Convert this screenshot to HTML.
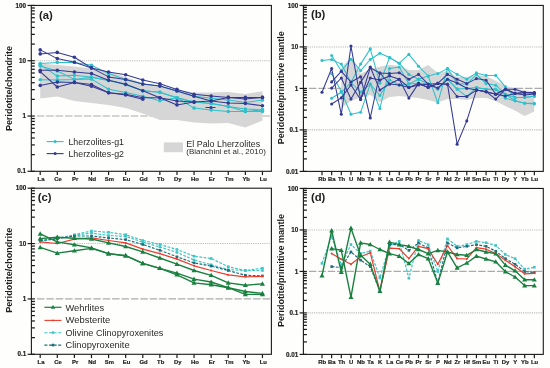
<!DOCTYPE html>
<html><head><meta charset="utf-8"><style>
html,body{margin:0;padding:0;background:#fefefc;width:550px;height:368px;overflow:hidden}
svg{display:block;will-change:transform}
text{font-family:"Liberation Sans",sans-serif;fill:#1e1e1e}
.tl{font-size:6.3px;font-weight:bold;stroke:#1e1e1e;stroke-width:0.2px}
.xl{font-size:5.9px;font-weight:bold;stroke:#1e1e1e;stroke-width:0.2px}
.pl{font-size:11.3px;font-weight:bold}
.yl{font-size:9px;font-weight:bold}
.lg{font-size:9px;fill:#2a2a2a}
.lg2{font-size:7.6px;fill:#2a2a2a}
.lg3{font-size:9.4px;fill:#2a2a2a}
</style></head><body>
<svg width="550" height="368" viewBox="0 0 550 368">
<line x1="36.8" y1="116.02" x2="270.4" y2="116.02" stroke="#ababab" stroke-width="1.2" stroke-dasharray="7.5,1.9"/>
<line x1="35.3" y1="60.73" x2="270.4" y2="60.73" stroke="#bdbdbd" stroke-width="1.1" stroke-dasharray="1.2,1.0"/>
<polygon points="40.20,63.50 57.30,65.00 74.39,66.50 91.49,68.50 108.58,71.50 125.68,77.00 142.78,83.00 159.87,86.00 176.97,90.00 194.06,92.50 211.16,92.50 228.26,92.00 245.35,94.00 262.45,91.20 262.45,120.50 245.35,127.50 228.26,123.00 211.16,123.50 194.06,122.50 176.97,120.00 159.87,120.00 142.78,113.50 125.68,108.00 108.58,105.00 91.49,103.00 74.39,101.00 57.30,96.50 40.20,98.50" fill="#d6d6d6"/>
<polyline points="40.20,63.50 57.30,62.40 74.39,62.40 91.49,65.20 108.58,73.60 125.68,79.60 142.78,84.10 159.87,86.10 176.97,91.00 194.06,96.20 211.16,98.20 228.26,100.10 245.35,102.60 262.45,100.10" fill="none" stroke="#2fc1cb" stroke-width="1.05" stroke-linejoin="round"/>
<circle cx="40.20" cy="63.50" r="1.8" fill="#2fc1cb"/>
<circle cx="57.30" cy="62.40" r="1.8" fill="#2fc1cb"/>
<circle cx="74.39" cy="62.40" r="1.8" fill="#2fc1cb"/>
<circle cx="91.49" cy="65.20" r="1.8" fill="#2fc1cb"/>
<circle cx="108.58" cy="73.60" r="1.8" fill="#2fc1cb"/>
<circle cx="125.68" cy="79.60" r="1.8" fill="#2fc1cb"/>
<circle cx="142.78" cy="84.10" r="1.8" fill="#2fc1cb"/>
<circle cx="159.87" cy="86.10" r="1.8" fill="#2fc1cb"/>
<circle cx="176.97" cy="91.00" r="1.8" fill="#2fc1cb"/>
<circle cx="194.06" cy="96.20" r="1.8" fill="#2fc1cb"/>
<circle cx="211.16" cy="98.20" r="1.8" fill="#2fc1cb"/>
<circle cx="228.26" cy="100.10" r="1.8" fill="#2fc1cb"/>
<circle cx="245.35" cy="102.60" r="1.8" fill="#2fc1cb"/>
<circle cx="262.45" cy="100.10" r="1.8" fill="#2fc1cb"/>
<polyline points="40.20,64.60 57.30,76.10 74.39,75.30 91.49,77.20 108.58,80.20 125.68,84.20 142.78,90.70 159.87,92.30 176.97,97.80 194.06,102.10 211.16,103.40 228.26,106.60 245.35,109.10 262.45,109.90" fill="none" stroke="#2fc1cb" stroke-width="1.05" stroke-linejoin="round"/>
<circle cx="40.20" cy="64.60" r="1.8" fill="#2fc1cb"/>
<circle cx="57.30" cy="76.10" r="1.8" fill="#2fc1cb"/>
<circle cx="74.39" cy="75.30" r="1.8" fill="#2fc1cb"/>
<circle cx="91.49" cy="77.20" r="1.8" fill="#2fc1cb"/>
<circle cx="108.58" cy="80.20" r="1.8" fill="#2fc1cb"/>
<circle cx="125.68" cy="84.20" r="1.8" fill="#2fc1cb"/>
<circle cx="142.78" cy="90.70" r="1.8" fill="#2fc1cb"/>
<circle cx="159.87" cy="92.30" r="1.8" fill="#2fc1cb"/>
<circle cx="176.97" cy="97.80" r="1.8" fill="#2fc1cb"/>
<circle cx="194.06" cy="102.10" r="1.8" fill="#2fc1cb"/>
<circle cx="211.16" cy="103.40" r="1.8" fill="#2fc1cb"/>
<circle cx="228.26" cy="106.60" r="1.8" fill="#2fc1cb"/>
<circle cx="245.35" cy="109.10" r="1.8" fill="#2fc1cb"/>
<circle cx="262.45" cy="109.90" r="1.8" fill="#2fc1cb"/>
<polyline points="40.20,66.10 57.30,71.00 74.39,79.40 91.49,79.10 108.58,89.20 125.68,92.50 142.78,96.20 159.87,100.80 176.97,97.80 194.06,108.10 211.16,109.90 228.26,111.50 245.35,111.50 262.45,111.50" fill="none" stroke="#2fc1cb" stroke-width="1.05" stroke-linejoin="round"/>
<circle cx="40.20" cy="66.10" r="1.8" fill="#2fc1cb"/>
<circle cx="57.30" cy="71.00" r="1.8" fill="#2fc1cb"/>
<circle cx="74.39" cy="79.40" r="1.8" fill="#2fc1cb"/>
<circle cx="91.49" cy="79.10" r="1.8" fill="#2fc1cb"/>
<circle cx="108.58" cy="89.20" r="1.8" fill="#2fc1cb"/>
<circle cx="125.68" cy="92.50" r="1.8" fill="#2fc1cb"/>
<circle cx="142.78" cy="96.20" r="1.8" fill="#2fc1cb"/>
<circle cx="159.87" cy="100.80" r="1.8" fill="#2fc1cb"/>
<circle cx="176.97" cy="97.80" r="1.8" fill="#2fc1cb"/>
<circle cx="194.06" cy="108.10" r="1.8" fill="#2fc1cb"/>
<circle cx="211.16" cy="109.90" r="1.8" fill="#2fc1cb"/>
<circle cx="228.26" cy="111.50" r="1.8" fill="#2fc1cb"/>
<circle cx="245.35" cy="111.50" r="1.8" fill="#2fc1cb"/>
<circle cx="262.45" cy="111.50" r="1.8" fill="#2fc1cb"/>
<polyline points="40.20,79.70 57.30,79.90 74.39,79.40 91.49,77.20 108.58,80.60 125.68,84.70 142.78,90.70 159.87,92.30 176.97,97.80 194.06,102.10 211.16,103.40 228.26,106.60 245.35,111.50 262.45,109.90" fill="none" stroke="#2fc1cb" stroke-width="1.05" stroke-linejoin="round"/>
<circle cx="40.20" cy="79.70" r="1.8" fill="#2fc1cb"/>
<circle cx="57.30" cy="79.90" r="1.8" fill="#2fc1cb"/>
<circle cx="74.39" cy="79.40" r="1.8" fill="#2fc1cb"/>
<circle cx="91.49" cy="77.20" r="1.8" fill="#2fc1cb"/>
<circle cx="108.58" cy="80.60" r="1.8" fill="#2fc1cb"/>
<circle cx="125.68" cy="84.70" r="1.8" fill="#2fc1cb"/>
<circle cx="142.78" cy="90.70" r="1.8" fill="#2fc1cb"/>
<circle cx="159.87" cy="92.30" r="1.8" fill="#2fc1cb"/>
<circle cx="176.97" cy="97.80" r="1.8" fill="#2fc1cb"/>
<circle cx="194.06" cy="102.10" r="1.8" fill="#2fc1cb"/>
<circle cx="211.16" cy="103.40" r="1.8" fill="#2fc1cb"/>
<circle cx="228.26" cy="106.60" r="1.8" fill="#2fc1cb"/>
<circle cx="245.35" cy="111.50" r="1.8" fill="#2fc1cb"/>
<circle cx="262.45" cy="109.90" r="1.8" fill="#2fc1cb"/>
<polyline points="40.20,53.90 57.30,52.40 74.39,57.30 91.49,67.90 108.58,72.00 125.68,74.70 142.78,80.10 159.87,83.70 176.97,89.40 194.06,94.30 211.16,96.10 228.26,97.40 245.35,97.40 262.45,97.40" fill="none" stroke="#343a94" stroke-width="1.05" stroke-linejoin="round"/>
<circle cx="40.20" cy="53.90" r="1.8" fill="#343a94"/>
<circle cx="57.30" cy="52.40" r="1.8" fill="#343a94"/>
<circle cx="74.39" cy="57.30" r="1.8" fill="#343a94"/>
<circle cx="91.49" cy="67.90" r="1.8" fill="#343a94"/>
<circle cx="108.58" cy="72.00" r="1.8" fill="#343a94"/>
<circle cx="125.68" cy="74.70" r="1.8" fill="#343a94"/>
<circle cx="142.78" cy="80.10" r="1.8" fill="#343a94"/>
<circle cx="159.87" cy="83.70" r="1.8" fill="#343a94"/>
<circle cx="176.97" cy="89.40" r="1.8" fill="#343a94"/>
<circle cx="194.06" cy="94.30" r="1.8" fill="#343a94"/>
<circle cx="211.16" cy="96.10" r="1.8" fill="#343a94"/>
<circle cx="228.26" cy="97.40" r="1.8" fill="#343a94"/>
<circle cx="245.35" cy="97.40" r="1.8" fill="#343a94"/>
<circle cx="262.45" cy="97.40" r="1.8" fill="#343a94"/>
<polyline points="40.20,49.90 57.30,58.60 74.39,62.20 91.49,67.90 108.58,76.90 125.68,79.60 142.78,84.10 159.87,86.10 176.97,91.00 194.06,96.20 211.16,100.90 228.26,97.40 245.35,99.00 262.45,97.40" fill="none" stroke="#343a94" stroke-width="1.05" stroke-linejoin="round"/>
<circle cx="40.20" cy="49.90" r="1.8" fill="#343a94"/>
<circle cx="57.30" cy="58.60" r="1.8" fill="#343a94"/>
<circle cx="74.39" cy="62.20" r="1.8" fill="#343a94"/>
<circle cx="91.49" cy="67.90" r="1.8" fill="#343a94"/>
<circle cx="108.58" cy="76.90" r="1.8" fill="#343a94"/>
<circle cx="125.68" cy="79.60" r="1.8" fill="#343a94"/>
<circle cx="142.78" cy="84.10" r="1.8" fill="#343a94"/>
<circle cx="159.87" cy="86.10" r="1.8" fill="#343a94"/>
<circle cx="176.97" cy="91.00" r="1.8" fill="#343a94"/>
<circle cx="194.06" cy="96.20" r="1.8" fill="#343a94"/>
<circle cx="211.16" cy="100.90" r="1.8" fill="#343a94"/>
<circle cx="228.26" cy="97.40" r="1.8" fill="#343a94"/>
<circle cx="245.35" cy="99.00" r="1.8" fill="#343a94"/>
<circle cx="262.45" cy="97.40" r="1.8" fill="#343a94"/>
<polyline points="40.20,70.30 57.30,70.30 74.39,72.00 91.49,73.60 108.58,80.20 125.68,84.20 142.78,90.70 159.87,97.80 176.97,101.10 194.06,102.10 211.16,100.90 228.26,103.10 245.35,103.40 262.45,105.80" fill="none" stroke="#343a94" stroke-width="1.05" stroke-linejoin="round"/>
<circle cx="40.20" cy="70.30" r="1.8" fill="#343a94"/>
<circle cx="57.30" cy="70.30" r="1.8" fill="#343a94"/>
<circle cx="74.39" cy="72.00" r="1.8" fill="#343a94"/>
<circle cx="91.49" cy="73.60" r="1.8" fill="#343a94"/>
<circle cx="108.58" cy="80.20" r="1.8" fill="#343a94"/>
<circle cx="125.68" cy="84.20" r="1.8" fill="#343a94"/>
<circle cx="142.78" cy="90.70" r="1.8" fill="#343a94"/>
<circle cx="159.87" cy="97.80" r="1.8" fill="#343a94"/>
<circle cx="176.97" cy="101.10" r="1.8" fill="#343a94"/>
<circle cx="194.06" cy="102.10" r="1.8" fill="#343a94"/>
<circle cx="211.16" cy="100.90" r="1.8" fill="#343a94"/>
<circle cx="228.26" cy="103.10" r="1.8" fill="#343a94"/>
<circle cx="245.35" cy="103.40" r="1.8" fill="#343a94"/>
<circle cx="262.45" cy="105.80" r="1.8" fill="#343a94"/>
<polyline points="40.20,71.70 57.30,87.00 74.39,82.40 91.49,84.50 108.58,92.70 125.68,94.90 142.78,99.20" fill="none" stroke="#343a94" stroke-width="1.05" stroke-linejoin="round"/>
<circle cx="40.20" cy="71.70" r="1.8" fill="#343a94"/>
<circle cx="57.30" cy="87.00" r="1.8" fill="#343a94"/>
<circle cx="74.39" cy="82.40" r="1.8" fill="#343a94"/>
<circle cx="91.49" cy="84.50" r="1.8" fill="#343a94"/>
<circle cx="108.58" cy="92.70" r="1.8" fill="#343a94"/>
<circle cx="125.68" cy="94.90" r="1.8" fill="#343a94"/>
<circle cx="142.78" cy="99.20" r="1.8" fill="#343a94"/>
<polyline points="40.20,85.40 57.30,82.10 74.39,82.40 91.49,86.20 108.58,92.70 125.68,94.20 142.78,97.70 159.87,97.80 176.97,104.90 194.06,102.10" fill="none" stroke="#343a94" stroke-width="1.05" stroke-linejoin="round"/>
<circle cx="40.20" cy="85.40" r="1.8" fill="#343a94"/>
<circle cx="57.30" cy="82.10" r="1.8" fill="#343a94"/>
<circle cx="74.39" cy="82.40" r="1.8" fill="#343a94"/>
<circle cx="91.49" cy="86.20" r="1.8" fill="#343a94"/>
<circle cx="108.58" cy="92.70" r="1.8" fill="#343a94"/>
<circle cx="125.68" cy="94.20" r="1.8" fill="#343a94"/>
<circle cx="142.78" cy="97.70" r="1.8" fill="#343a94"/>
<circle cx="159.87" cy="97.80" r="1.8" fill="#343a94"/>
<circle cx="176.97" cy="104.90" r="1.8" fill="#343a94"/>
<circle cx="194.06" cy="102.10" r="1.8" fill="#343a94"/>
<line x1="205.5" y1="107.5" x2="215.5" y2="107.5" stroke="#343a94" stroke-width="1"/><circle cx="211" cy="107.5" r="1.6" fill="#343a94"/>
<rect x="31.3" y="5.45" width="240.09999999999997" height="165.85000000000002" fill="none" stroke="#1a1a1a" stroke-width="1.1"/>
<line x1="27.5" y1="171.30" x2="34.8" y2="171.30" stroke="#1a1a1a" stroke-width="1.2"/>
<line x1="31.3" y1="154.66" x2="34.8" y2="154.66" stroke="#1a1a1a" stroke-width="1.25"/>
<line x1="31.3" y1="144.92" x2="34.8" y2="144.92" stroke="#1a1a1a" stroke-width="1.25"/>
<line x1="31.3" y1="138.02" x2="34.8" y2="138.02" stroke="#1a1a1a" stroke-width="1.25"/>
<line x1="31.3" y1="132.66" x2="34.8" y2="132.66" stroke="#1a1a1a" stroke-width="1.25"/>
<line x1="31.3" y1="128.28" x2="34.8" y2="128.28" stroke="#1a1a1a" stroke-width="1.25"/>
<line x1="31.3" y1="124.58" x2="34.8" y2="124.58" stroke="#1a1a1a" stroke-width="1.25"/>
<line x1="31.3" y1="121.37" x2="34.8" y2="121.37" stroke="#1a1a1a" stroke-width="1.25"/>
<line x1="31.3" y1="118.55" x2="34.8" y2="118.55" stroke="#1a1a1a" stroke-width="1.25"/>
<text x="26.1" y="173.40" text-anchor="end" class="tl">0.1</text>
<line x1="27.5" y1="116.02" x2="34.8" y2="116.02" stroke="#1a1a1a" stroke-width="1.2"/>
<line x1="31.3" y1="99.37" x2="34.8" y2="99.37" stroke="#1a1a1a" stroke-width="1.25"/>
<line x1="31.3" y1="89.64" x2="34.8" y2="89.64" stroke="#1a1a1a" stroke-width="1.25"/>
<line x1="31.3" y1="82.73" x2="34.8" y2="82.73" stroke="#1a1a1a" stroke-width="1.25"/>
<line x1="31.3" y1="77.38" x2="34.8" y2="77.38" stroke="#1a1a1a" stroke-width="1.25"/>
<line x1="31.3" y1="73.00" x2="34.8" y2="73.00" stroke="#1a1a1a" stroke-width="1.25"/>
<line x1="31.3" y1="69.30" x2="34.8" y2="69.30" stroke="#1a1a1a" stroke-width="1.25"/>
<line x1="31.3" y1="66.09" x2="34.8" y2="66.09" stroke="#1a1a1a" stroke-width="1.25"/>
<line x1="31.3" y1="63.26" x2="34.8" y2="63.26" stroke="#1a1a1a" stroke-width="1.25"/>
<text x="26.1" y="118.12" text-anchor="end" class="tl">1</text>
<line x1="27.5" y1="60.73" x2="34.8" y2="60.73" stroke="#1a1a1a" stroke-width="1.2"/>
<line x1="31.3" y1="44.09" x2="34.8" y2="44.09" stroke="#1a1a1a" stroke-width="1.25"/>
<line x1="31.3" y1="34.36" x2="34.8" y2="34.36" stroke="#1a1a1a" stroke-width="1.25"/>
<line x1="31.3" y1="27.45" x2="34.8" y2="27.45" stroke="#1a1a1a" stroke-width="1.25"/>
<line x1="31.3" y1="22.09" x2="34.8" y2="22.09" stroke="#1a1a1a" stroke-width="1.25"/>
<line x1="31.3" y1="17.71" x2="34.8" y2="17.71" stroke="#1a1a1a" stroke-width="1.25"/>
<line x1="31.3" y1="14.01" x2="34.8" y2="14.01" stroke="#1a1a1a" stroke-width="1.25"/>
<line x1="31.3" y1="10.81" x2="34.8" y2="10.81" stroke="#1a1a1a" stroke-width="1.25"/>
<line x1="31.3" y1="7.98" x2="34.8" y2="7.98" stroke="#1a1a1a" stroke-width="1.25"/>
<text x="26.1" y="62.83" text-anchor="end" class="tl">10</text>
<line x1="27.5" y1="5.45" x2="34.8" y2="5.45" stroke="#1a1a1a" stroke-width="1.2"/>
<text x="26.1" y="7.55" text-anchor="end" class="tl">100</text>
<line x1="40.20" y1="171.3" x2="40.20" y2="175.10000000000002" stroke="#1a1a1a" stroke-width="1.2"/>
<text x="41.00" y="180.60" text-anchor="middle" class="xl">La</text>
<line x1="57.30" y1="171.3" x2="57.30" y2="175.10000000000002" stroke="#1a1a1a" stroke-width="1.2"/>
<text x="58.10" y="180.60" text-anchor="middle" class="xl">Ce</text>
<line x1="74.39" y1="171.3" x2="74.39" y2="175.10000000000002" stroke="#1a1a1a" stroke-width="1.2"/>
<text x="75.19" y="180.60" text-anchor="middle" class="xl">Pr</text>
<line x1="91.49" y1="171.3" x2="91.49" y2="175.10000000000002" stroke="#1a1a1a" stroke-width="1.2"/>
<text x="92.29" y="180.60" text-anchor="middle" class="xl">Nd</text>
<line x1="108.58" y1="171.3" x2="108.58" y2="175.10000000000002" stroke="#1a1a1a" stroke-width="1.2"/>
<text x="109.38" y="180.60" text-anchor="middle" class="xl">Sm</text>
<line x1="125.68" y1="171.3" x2="125.68" y2="175.10000000000002" stroke="#1a1a1a" stroke-width="1.2"/>
<text x="126.48" y="180.60" text-anchor="middle" class="xl">Eu</text>
<line x1="142.78" y1="171.3" x2="142.78" y2="175.10000000000002" stroke="#1a1a1a" stroke-width="1.2"/>
<text x="143.58" y="180.60" text-anchor="middle" class="xl">Gd</text>
<line x1="159.87" y1="171.3" x2="159.87" y2="175.10000000000002" stroke="#1a1a1a" stroke-width="1.2"/>
<text x="160.67" y="180.60" text-anchor="middle" class="xl">Tb</text>
<line x1="176.97" y1="171.3" x2="176.97" y2="175.10000000000002" stroke="#1a1a1a" stroke-width="1.2"/>
<text x="177.77" y="180.60" text-anchor="middle" class="xl">Dy</text>
<line x1="194.06" y1="171.3" x2="194.06" y2="175.10000000000002" stroke="#1a1a1a" stroke-width="1.2"/>
<text x="194.86" y="180.60" text-anchor="middle" class="xl">Ho</text>
<line x1="211.16" y1="171.3" x2="211.16" y2="175.10000000000002" stroke="#1a1a1a" stroke-width="1.2"/>
<text x="211.96" y="180.60" text-anchor="middle" class="xl">Er</text>
<line x1="228.26" y1="171.3" x2="228.26" y2="175.10000000000002" stroke="#1a1a1a" stroke-width="1.2"/>
<text x="229.06" y="180.60" text-anchor="middle" class="xl">Tm</text>
<line x1="245.35" y1="171.3" x2="245.35" y2="175.10000000000002" stroke="#1a1a1a" stroke-width="1.2"/>
<text x="246.15" y="180.60" text-anchor="middle" class="xl">Yb</text>
<line x1="262.45" y1="171.3" x2="262.45" y2="175.10000000000002" stroke="#1a1a1a" stroke-width="1.2"/>
<text x="263.25" y="180.60" text-anchor="middle" class="xl">Lu</text>
<text x="38.9" y="19.25" class="pl">(a)</text>
<text transform="translate(11.9,88.40) rotate(-90)" text-anchor="middle" class="yl">Peridotite/chondrite</text>
<line x1="46.6" y1="141.6" x2="63.6" y2="141.6" stroke="#2fc1cb" stroke-width="1.1"/><circle cx="55.1" cy="141.6" r="1.5" fill="#2fc1cb"/>
<text x="68.4" y="144.9" class="lg" textLength="55.6" lengthAdjust="spacingAndGlyphs">Lherzolites-g1</text>
<line x1="46.6" y1="153.6" x2="63.6" y2="153.6" stroke="#343a94" stroke-width="1.1"/><circle cx="55.1" cy="153.6" r="1.5" fill="#343a94"/>
<text x="68.4" y="156.9" class="lg" textLength="55.6" lengthAdjust="spacingAndGlyphs">Lherzolites-g2</text>
<rect x="163.8" y="142.4" width="19.1" height="9.8" fill="#d6d6d6"/>
<text x="186.3" y="146.9" class="lg" textLength="73.8" lengthAdjust="spacingAndGlyphs">El Palo Lherzolites</text>
<text x="186.3" y="153.8" class="lg2" textLength="79.5" lengthAdjust="spacingAndGlyphs">(Bianchini et al., 2010)</text>
<line x1="307.4" y1="129.91" x2="542.3" y2="129.91" stroke="#bdbdbd" stroke-width="1.1" stroke-dasharray="1.2,1.0"/>
<line x1="308.9" y1="88.42" x2="542.3" y2="88.42" stroke="#ababab" stroke-width="1.2" stroke-dasharray="7.5,1.9"/>
<line x1="307.4" y1="46.94" x2="542.3" y2="46.94" stroke="#bdbdbd" stroke-width="1.1" stroke-dasharray="1.2,1.0"/>
<polygon points="341.30,67.70 351.00,57.50 360.60,74.00 370.30,69.00 379.90,66.80 389.60,64.70 399.20,66.00 408.90,70.00 418.50,70.00 428.20,65.00 437.80,73.00 447.50,71.00 457.10,77.00 466.70,77.00 476.40,75.00 486.00,76.00 495.70,80.70 505.30,85.50 515.00,89.00 524.60,90.20 534.20,91.40 534.20,111.50 524.60,116.00 515.00,110.50 505.30,106.00 495.70,101.00 486.00,98.00 476.40,98.00 466.70,100.00 457.10,99.00 447.50,99.00 437.80,102.50 428.20,100.00 418.50,98.00 408.90,97.00 399.20,96.00 389.60,97.00 379.90,102.00 370.30,95.00 360.60,97.50 351.00,101.00 341.30,108.00" fill="#d6d6d6"/>
<polyline points="322.00,60.40 331.65,59.50 341.30,64.10 350.96,82.50 360.61,64.10 370.26,48.90 379.91,83.20 389.56,57.60 399.22,63.20 408.87,54.40 418.52,66.20 428.17,76.00 437.82,102.70 447.48,68.60 457.13,74.40 466.78,79.30 476.43,72.90 486.08,75.40 495.74,75.40 505.39,86.80 515.04,97.50 524.69,97.50 534.34,96.30" fill="none" stroke="#2fc1cb" stroke-width="1.05" stroke-linejoin="round"/>
<circle cx="322.00" cy="60.40" r="1.55" fill="#2fc1cb"/>
<circle cx="331.65" cy="59.50" r="1.55" fill="#2fc1cb"/>
<circle cx="341.30" cy="64.10" r="1.55" fill="#2fc1cb"/>
<circle cx="350.96" cy="82.50" r="1.55" fill="#2fc1cb"/>
<circle cx="360.61" cy="64.10" r="1.55" fill="#2fc1cb"/>
<circle cx="370.26" cy="48.90" r="1.55" fill="#2fc1cb"/>
<circle cx="379.91" cy="83.20" r="1.55" fill="#2fc1cb"/>
<circle cx="389.56" cy="57.60" r="1.55" fill="#2fc1cb"/>
<circle cx="399.22" cy="63.20" r="1.55" fill="#2fc1cb"/>
<circle cx="408.87" cy="54.40" r="1.55" fill="#2fc1cb"/>
<circle cx="418.52" cy="66.20" r="1.55" fill="#2fc1cb"/>
<circle cx="428.17" cy="76.00" r="1.55" fill="#2fc1cb"/>
<circle cx="437.82" cy="102.70" r="1.55" fill="#2fc1cb"/>
<circle cx="447.48" cy="68.60" r="1.55" fill="#2fc1cb"/>
<circle cx="457.13" cy="74.40" r="1.55" fill="#2fc1cb"/>
<circle cx="466.78" cy="79.30" r="1.55" fill="#2fc1cb"/>
<circle cx="476.43" cy="72.90" r="1.55" fill="#2fc1cb"/>
<circle cx="486.08" cy="75.40" r="1.55" fill="#2fc1cb"/>
<circle cx="495.74" cy="75.40" r="1.55" fill="#2fc1cb"/>
<circle cx="505.39" cy="86.80" r="1.55" fill="#2fc1cb"/>
<circle cx="515.04" cy="97.50" r="1.55" fill="#2fc1cb"/>
<circle cx="524.69" cy="97.50" r="1.55" fill="#2fc1cb"/>
<circle cx="534.34" cy="96.30" r="1.55" fill="#2fc1cb"/>
<polyline points="331.65,55.50 341.30,71.00 350.96,59.20 360.61,70.70 370.26,59.50 379.91,53.30 389.56,57.60 399.22,63.20 408.87,74.40 418.52,79.30 428.17,76.00 437.82,73.60 447.48,68.60 457.13,83.40 466.78,84.20 476.43,74.50 486.08,83.60 495.74,85.20 505.39,94.20 515.04,100.70 524.69,103.20 534.34,103.20" fill="none" stroke="#2fc1cb" stroke-width="1.05" stroke-linejoin="round"/>
<circle cx="331.65" cy="55.50" r="1.55" fill="#2fc1cb"/>
<circle cx="341.30" cy="71.00" r="1.55" fill="#2fc1cb"/>
<circle cx="350.96" cy="59.20" r="1.55" fill="#2fc1cb"/>
<circle cx="360.61" cy="70.70" r="1.55" fill="#2fc1cb"/>
<circle cx="370.26" cy="59.50" r="1.55" fill="#2fc1cb"/>
<circle cx="379.91" cy="53.30" r="1.55" fill="#2fc1cb"/>
<circle cx="389.56" cy="57.60" r="1.55" fill="#2fc1cb"/>
<circle cx="399.22" cy="63.20" r="1.55" fill="#2fc1cb"/>
<circle cx="408.87" cy="74.40" r="1.55" fill="#2fc1cb"/>
<circle cx="418.52" cy="79.30" r="1.55" fill="#2fc1cb"/>
<circle cx="428.17" cy="76.00" r="1.55" fill="#2fc1cb"/>
<circle cx="437.82" cy="73.60" r="1.55" fill="#2fc1cb"/>
<circle cx="447.48" cy="68.60" r="1.55" fill="#2fc1cb"/>
<circle cx="457.13" cy="83.40" r="1.55" fill="#2fc1cb"/>
<circle cx="466.78" cy="84.20" r="1.55" fill="#2fc1cb"/>
<circle cx="476.43" cy="74.50" r="1.55" fill="#2fc1cb"/>
<circle cx="486.08" cy="83.60" r="1.55" fill="#2fc1cb"/>
<circle cx="495.74" cy="85.20" r="1.55" fill="#2fc1cb"/>
<circle cx="505.39" cy="94.20" r="1.55" fill="#2fc1cb"/>
<circle cx="515.04" cy="100.70" r="1.55" fill="#2fc1cb"/>
<circle cx="524.69" cy="103.20" r="1.55" fill="#2fc1cb"/>
<circle cx="534.34" cy="103.20" r="1.55" fill="#2fc1cb"/>
<polyline points="331.65,73.50 341.30,91.40 350.96,114.30 360.61,112.30 370.26,84.10 379.91,108.50 389.56,68.50 399.22,67.00 408.87,83.90 418.52,79.30 428.17,84.00 437.82,89.10 447.48,79.30 457.13,89.10 466.78,88.50 476.43,87.60 486.08,89.30 495.74,89.30 505.39,98.30 515.04,100.70 524.69,103.20 534.34,104.00" fill="none" stroke="#2fc1cb" stroke-width="1.05" stroke-linejoin="round"/>
<circle cx="331.65" cy="73.50" r="1.55" fill="#2fc1cb"/>
<circle cx="341.30" cy="91.40" r="1.55" fill="#2fc1cb"/>
<circle cx="350.96" cy="114.30" r="1.55" fill="#2fc1cb"/>
<circle cx="360.61" cy="112.30" r="1.55" fill="#2fc1cb"/>
<circle cx="370.26" cy="84.10" r="1.55" fill="#2fc1cb"/>
<circle cx="379.91" cy="108.50" r="1.55" fill="#2fc1cb"/>
<circle cx="389.56" cy="68.50" r="1.55" fill="#2fc1cb"/>
<circle cx="399.22" cy="67.00" r="1.55" fill="#2fc1cb"/>
<circle cx="408.87" cy="83.90" r="1.55" fill="#2fc1cb"/>
<circle cx="418.52" cy="79.30" r="1.55" fill="#2fc1cb"/>
<circle cx="428.17" cy="84.00" r="1.55" fill="#2fc1cb"/>
<circle cx="437.82" cy="89.10" r="1.55" fill="#2fc1cb"/>
<circle cx="447.48" cy="79.30" r="1.55" fill="#2fc1cb"/>
<circle cx="457.13" cy="89.10" r="1.55" fill="#2fc1cb"/>
<circle cx="466.78" cy="88.50" r="1.55" fill="#2fc1cb"/>
<circle cx="476.43" cy="87.60" r="1.55" fill="#2fc1cb"/>
<circle cx="486.08" cy="89.30" r="1.55" fill="#2fc1cb"/>
<circle cx="495.74" cy="89.30" r="1.55" fill="#2fc1cb"/>
<circle cx="505.39" cy="98.30" r="1.55" fill="#2fc1cb"/>
<circle cx="515.04" cy="100.70" r="1.55" fill="#2fc1cb"/>
<circle cx="524.69" cy="103.20" r="1.55" fill="#2fc1cb"/>
<circle cx="534.34" cy="104.00" r="1.55" fill="#2fc1cb"/>
<polyline points="331.65,98.20 341.30,92.30 350.96,82.50 360.61,92.00 370.26,84.10 379.91,95.50 389.56,79.90 399.22,85.00 408.87,83.90 418.52,83.00 428.17,84.00 437.82,89.00 447.48,79.30 457.13,89.10 466.78,96.60 476.43,87.60 486.08,89.30 495.74,89.30 505.39,94.20 515.04,97.50 524.69,97.50 534.34,96.30" fill="none" stroke="#2fc1cb" stroke-width="1.05" stroke-linejoin="round"/>
<circle cx="331.65" cy="98.20" r="1.55" fill="#2fc1cb"/>
<circle cx="341.30" cy="92.30" r="1.55" fill="#2fc1cb"/>
<circle cx="350.96" cy="82.50" r="1.55" fill="#2fc1cb"/>
<circle cx="360.61" cy="92.00" r="1.55" fill="#2fc1cb"/>
<circle cx="370.26" cy="84.10" r="1.55" fill="#2fc1cb"/>
<circle cx="379.91" cy="95.50" r="1.55" fill="#2fc1cb"/>
<circle cx="389.56" cy="79.90" r="1.55" fill="#2fc1cb"/>
<circle cx="399.22" cy="85.00" r="1.55" fill="#2fc1cb"/>
<circle cx="408.87" cy="83.90" r="1.55" fill="#2fc1cb"/>
<circle cx="418.52" cy="83.00" r="1.55" fill="#2fc1cb"/>
<circle cx="428.17" cy="84.00" r="1.55" fill="#2fc1cb"/>
<circle cx="437.82" cy="89.00" r="1.55" fill="#2fc1cb"/>
<circle cx="447.48" cy="79.30" r="1.55" fill="#2fc1cb"/>
<circle cx="457.13" cy="89.10" r="1.55" fill="#2fc1cb"/>
<circle cx="466.78" cy="96.60" r="1.55" fill="#2fc1cb"/>
<circle cx="476.43" cy="87.60" r="1.55" fill="#2fc1cb"/>
<circle cx="486.08" cy="89.30" r="1.55" fill="#2fc1cb"/>
<circle cx="495.74" cy="89.30" r="1.55" fill="#2fc1cb"/>
<circle cx="505.39" cy="94.20" r="1.55" fill="#2fc1cb"/>
<circle cx="515.04" cy="97.50" r="1.55" fill="#2fc1cb"/>
<circle cx="524.69" cy="97.50" r="1.55" fill="#2fc1cb"/>
<circle cx="534.34" cy="96.30" r="1.55" fill="#2fc1cb"/>
<polyline points="322.00,92.30 331.65,68.50 341.30,114.30 350.96,46.10 360.61,99.50 370.26,67.70 379.91,73.00 389.56,73.50 399.22,72.70 408.87,79.30 418.52,74.40 428.17,84.20 437.82,83.40 447.48,74.40 457.13,79.30 466.78,83.60 476.43,78.60 486.08,80.30 495.74,94.20 505.39,89.30 515.04,89.30 524.69,92.60 534.34,92.90" fill="none" stroke="#343a94" stroke-width="1.05" stroke-linejoin="round"/>
<circle cx="322.00" cy="92.30" r="1.55" fill="#343a94"/>
<circle cx="331.65" cy="68.50" r="1.55" fill="#343a94"/>
<circle cx="341.30" cy="114.30" r="1.55" fill="#343a94"/>
<circle cx="350.96" cy="46.10" r="1.55" fill="#343a94"/>
<circle cx="360.61" cy="99.50" r="1.55" fill="#343a94"/>
<circle cx="370.26" cy="67.70" r="1.55" fill="#343a94"/>
<circle cx="379.91" cy="73.00" r="1.55" fill="#343a94"/>
<circle cx="389.56" cy="73.50" r="1.55" fill="#343a94"/>
<circle cx="399.22" cy="72.70" r="1.55" fill="#343a94"/>
<circle cx="408.87" cy="79.30" r="1.55" fill="#343a94"/>
<circle cx="418.52" cy="74.40" r="1.55" fill="#343a94"/>
<circle cx="428.17" cy="84.20" r="1.55" fill="#343a94"/>
<circle cx="437.82" cy="83.40" r="1.55" fill="#343a94"/>
<circle cx="447.48" cy="74.40" r="1.55" fill="#343a94"/>
<circle cx="457.13" cy="79.30" r="1.55" fill="#343a94"/>
<circle cx="466.78" cy="83.60" r="1.55" fill="#343a94"/>
<circle cx="476.43" cy="78.60" r="1.55" fill="#343a94"/>
<circle cx="486.08" cy="80.30" r="1.55" fill="#343a94"/>
<circle cx="495.74" cy="94.20" r="1.55" fill="#343a94"/>
<circle cx="505.39" cy="89.30" r="1.55" fill="#343a94"/>
<circle cx="515.04" cy="89.30" r="1.55" fill="#343a94"/>
<circle cx="524.69" cy="92.60" r="1.55" fill="#343a94"/>
<circle cx="534.34" cy="92.90" r="1.55" fill="#343a94"/>
<polyline points="331.65,81.90 341.30,71.30 350.96,82.00 360.61,76.70 370.26,117.90 379.91,73.00 389.56,84.00 399.22,79.30 408.87,98.10 418.52,83.40 428.17,87.50 437.82,83.40 447.48,84.20 457.13,144.20 466.78,120.90 476.43,90.10 486.08,91.70 495.74,99.10 505.39,89.30 515.04,93.40 524.69,92.60 534.34,92.90" fill="none" stroke="#343a94" stroke-width="1.05" stroke-linejoin="round"/>
<circle cx="331.65" cy="81.90" r="1.55" fill="#343a94"/>
<circle cx="341.30" cy="71.30" r="1.55" fill="#343a94"/>
<circle cx="350.96" cy="82.00" r="1.55" fill="#343a94"/>
<circle cx="360.61" cy="76.70" r="1.55" fill="#343a94"/>
<circle cx="370.26" cy="117.90" r="1.55" fill="#343a94"/>
<circle cx="379.91" cy="73.00" r="1.55" fill="#343a94"/>
<circle cx="389.56" cy="84.00" r="1.55" fill="#343a94"/>
<circle cx="399.22" cy="79.30" r="1.55" fill="#343a94"/>
<circle cx="408.87" cy="98.10" r="1.55" fill="#343a94"/>
<circle cx="418.52" cy="83.40" r="1.55" fill="#343a94"/>
<circle cx="428.17" cy="87.50" r="1.55" fill="#343a94"/>
<circle cx="437.82" cy="83.40" r="1.55" fill="#343a94"/>
<circle cx="447.48" cy="84.20" r="1.55" fill="#343a94"/>
<circle cx="457.13" cy="144.20" r="1.55" fill="#343a94"/>
<circle cx="466.78" cy="120.90" r="1.55" fill="#343a94"/>
<circle cx="476.43" cy="90.10" r="1.55" fill="#343a94"/>
<circle cx="486.08" cy="91.70" r="1.55" fill="#343a94"/>
<circle cx="495.74" cy="99.10" r="1.55" fill="#343a94"/>
<circle cx="505.39" cy="89.30" r="1.55" fill="#343a94"/>
<circle cx="515.04" cy="93.40" r="1.55" fill="#343a94"/>
<circle cx="524.69" cy="92.60" r="1.55" fill="#343a94"/>
<circle cx="534.34" cy="92.90" r="1.55" fill="#343a94"/>
<polyline points="331.65,88.10 341.30,78.00 350.96,99.00 360.61,82.40 370.26,67.00 379.91,90.00 389.56,84.00 399.22,85.00 408.87,87.50 418.52,83.40 428.17,87.50 437.82,83.40 447.48,84.20 457.13,96.50 466.78,96.50 476.43,90.10 486.08,91.70 495.74,94.20 505.39,89.30 515.04,93.40 524.69,92.60 534.34,92.90" fill="none" stroke="#343a94" stroke-width="1.05" stroke-linejoin="round"/>
<circle cx="331.65" cy="88.10" r="1.55" fill="#343a94"/>
<circle cx="341.30" cy="78.00" r="1.55" fill="#343a94"/>
<circle cx="350.96" cy="99.00" r="1.55" fill="#343a94"/>
<circle cx="360.61" cy="82.40" r="1.55" fill="#343a94"/>
<circle cx="370.26" cy="67.00" r="1.55" fill="#343a94"/>
<circle cx="379.91" cy="90.00" r="1.55" fill="#343a94"/>
<circle cx="389.56" cy="84.00" r="1.55" fill="#343a94"/>
<circle cx="399.22" cy="85.00" r="1.55" fill="#343a94"/>
<circle cx="408.87" cy="87.50" r="1.55" fill="#343a94"/>
<circle cx="418.52" cy="83.40" r="1.55" fill="#343a94"/>
<circle cx="428.17" cy="87.50" r="1.55" fill="#343a94"/>
<circle cx="437.82" cy="83.40" r="1.55" fill="#343a94"/>
<circle cx="447.48" cy="84.20" r="1.55" fill="#343a94"/>
<circle cx="457.13" cy="96.50" r="1.55" fill="#343a94"/>
<circle cx="466.78" cy="96.50" r="1.55" fill="#343a94"/>
<circle cx="476.43" cy="90.10" r="1.55" fill="#343a94"/>
<circle cx="486.08" cy="91.70" r="1.55" fill="#343a94"/>
<circle cx="495.74" cy="94.20" r="1.55" fill="#343a94"/>
<circle cx="505.39" cy="89.30" r="1.55" fill="#343a94"/>
<circle cx="515.04" cy="93.40" r="1.55" fill="#343a94"/>
<circle cx="524.69" cy="92.60" r="1.55" fill="#343a94"/>
<circle cx="534.34" cy="92.90" r="1.55" fill="#343a94"/>
<polyline points="331.65,104.00 341.30,97.90 350.96,85.00 360.61,99.50 370.26,78.00 379.91,80.00 389.56,76.00 399.22,79.30 408.87,87.50 418.52,85.00 428.17,84.20 437.82,88.00 447.48,79.30 457.13,83.00 466.78,88.30 476.43,90.10 486.08,91.70 495.74,94.20 505.39,96.00 515.04,93.40 524.69,95.00 534.34,94.00" fill="none" stroke="#343a94" stroke-width="1.05" stroke-linejoin="round"/>
<circle cx="331.65" cy="104.00" r="1.55" fill="#343a94"/>
<circle cx="341.30" cy="97.90" r="1.55" fill="#343a94"/>
<circle cx="350.96" cy="85.00" r="1.55" fill="#343a94"/>
<circle cx="360.61" cy="99.50" r="1.55" fill="#343a94"/>
<circle cx="370.26" cy="78.00" r="1.55" fill="#343a94"/>
<circle cx="379.91" cy="80.00" r="1.55" fill="#343a94"/>
<circle cx="389.56" cy="76.00" r="1.55" fill="#343a94"/>
<circle cx="399.22" cy="79.30" r="1.55" fill="#343a94"/>
<circle cx="408.87" cy="87.50" r="1.55" fill="#343a94"/>
<circle cx="418.52" cy="85.00" r="1.55" fill="#343a94"/>
<circle cx="428.17" cy="84.20" r="1.55" fill="#343a94"/>
<circle cx="437.82" cy="88.00" r="1.55" fill="#343a94"/>
<circle cx="447.48" cy="79.30" r="1.55" fill="#343a94"/>
<circle cx="457.13" cy="83.00" r="1.55" fill="#343a94"/>
<circle cx="466.78" cy="88.30" r="1.55" fill="#343a94"/>
<circle cx="476.43" cy="90.10" r="1.55" fill="#343a94"/>
<circle cx="486.08" cy="91.70" r="1.55" fill="#343a94"/>
<circle cx="495.74" cy="94.20" r="1.55" fill="#343a94"/>
<circle cx="505.39" cy="96.00" r="1.55" fill="#343a94"/>
<circle cx="515.04" cy="93.40" r="1.55" fill="#343a94"/>
<circle cx="524.69" cy="95.00" r="1.55" fill="#343a94"/>
<circle cx="534.34" cy="94.00" r="1.55" fill="#343a94"/>
<rect x="303.4" y="5.45" width="239.89999999999998" height="165.95000000000002" fill="none" stroke="#1a1a1a" stroke-width="1.1"/>
<line x1="299.59999999999997" y1="171.40" x2="306.9" y2="171.40" stroke="#1a1a1a" stroke-width="1.2"/>
<line x1="303.4" y1="158.91" x2="306.9" y2="158.91" stroke="#1a1a1a" stroke-width="1.25"/>
<line x1="303.4" y1="151.61" x2="306.9" y2="151.61" stroke="#1a1a1a" stroke-width="1.25"/>
<line x1="303.4" y1="146.42" x2="306.9" y2="146.42" stroke="#1a1a1a" stroke-width="1.25"/>
<line x1="303.4" y1="142.40" x2="306.9" y2="142.40" stroke="#1a1a1a" stroke-width="1.25"/>
<line x1="303.4" y1="139.12" x2="306.9" y2="139.12" stroke="#1a1a1a" stroke-width="1.25"/>
<line x1="303.4" y1="136.34" x2="306.9" y2="136.34" stroke="#1a1a1a" stroke-width="1.25"/>
<line x1="303.4" y1="133.93" x2="306.9" y2="133.93" stroke="#1a1a1a" stroke-width="1.25"/>
<line x1="303.4" y1="131.81" x2="306.9" y2="131.81" stroke="#1a1a1a" stroke-width="1.25"/>
<text x="298.2" y="173.50" text-anchor="end" class="tl">0.01</text>
<line x1="299.59999999999997" y1="129.91" x2="306.9" y2="129.91" stroke="#1a1a1a" stroke-width="1.2"/>
<line x1="303.4" y1="117.42" x2="306.9" y2="117.42" stroke="#1a1a1a" stroke-width="1.25"/>
<line x1="303.4" y1="110.12" x2="306.9" y2="110.12" stroke="#1a1a1a" stroke-width="1.25"/>
<line x1="303.4" y1="104.93" x2="306.9" y2="104.93" stroke="#1a1a1a" stroke-width="1.25"/>
<line x1="303.4" y1="100.91" x2="306.9" y2="100.91" stroke="#1a1a1a" stroke-width="1.25"/>
<line x1="303.4" y1="97.63" x2="306.9" y2="97.63" stroke="#1a1a1a" stroke-width="1.25"/>
<line x1="303.4" y1="94.85" x2="306.9" y2="94.85" stroke="#1a1a1a" stroke-width="1.25"/>
<line x1="303.4" y1="92.45" x2="306.9" y2="92.45" stroke="#1a1a1a" stroke-width="1.25"/>
<line x1="303.4" y1="90.32" x2="306.9" y2="90.32" stroke="#1a1a1a" stroke-width="1.25"/>
<text x="298.2" y="132.01" text-anchor="end" class="tl">0.1</text>
<line x1="299.59999999999997" y1="88.42" x2="306.9" y2="88.42" stroke="#1a1a1a" stroke-width="1.2"/>
<line x1="303.4" y1="75.94" x2="306.9" y2="75.94" stroke="#1a1a1a" stroke-width="1.25"/>
<line x1="303.4" y1="68.63" x2="306.9" y2="68.63" stroke="#1a1a1a" stroke-width="1.25"/>
<line x1="303.4" y1="63.45" x2="306.9" y2="63.45" stroke="#1a1a1a" stroke-width="1.25"/>
<line x1="303.4" y1="59.43" x2="306.9" y2="59.43" stroke="#1a1a1a" stroke-width="1.25"/>
<line x1="303.4" y1="56.14" x2="306.9" y2="56.14" stroke="#1a1a1a" stroke-width="1.25"/>
<line x1="303.4" y1="53.36" x2="306.9" y2="53.36" stroke="#1a1a1a" stroke-width="1.25"/>
<line x1="303.4" y1="50.96" x2="306.9" y2="50.96" stroke="#1a1a1a" stroke-width="1.25"/>
<line x1="303.4" y1="48.84" x2="306.9" y2="48.84" stroke="#1a1a1a" stroke-width="1.25"/>
<text x="298.2" y="90.52" text-anchor="end" class="tl">1</text>
<line x1="299.59999999999997" y1="46.94" x2="306.9" y2="46.94" stroke="#1a1a1a" stroke-width="1.2"/>
<line x1="303.4" y1="34.45" x2="306.9" y2="34.45" stroke="#1a1a1a" stroke-width="1.25"/>
<line x1="303.4" y1="27.14" x2="306.9" y2="27.14" stroke="#1a1a1a" stroke-width="1.25"/>
<line x1="303.4" y1="21.96" x2="306.9" y2="21.96" stroke="#1a1a1a" stroke-width="1.25"/>
<line x1="303.4" y1="17.94" x2="306.9" y2="17.94" stroke="#1a1a1a" stroke-width="1.25"/>
<line x1="303.4" y1="14.65" x2="306.9" y2="14.65" stroke="#1a1a1a" stroke-width="1.25"/>
<line x1="303.4" y1="11.88" x2="306.9" y2="11.88" stroke="#1a1a1a" stroke-width="1.25"/>
<line x1="303.4" y1="9.47" x2="306.9" y2="9.47" stroke="#1a1a1a" stroke-width="1.25"/>
<line x1="303.4" y1="7.35" x2="306.9" y2="7.35" stroke="#1a1a1a" stroke-width="1.25"/>
<text x="298.2" y="49.04" text-anchor="end" class="tl">10</text>
<line x1="299.59999999999997" y1="5.45" x2="306.9" y2="5.45" stroke="#1a1a1a" stroke-width="1.2"/>
<text x="298.2" y="7.55" text-anchor="end" class="tl">100</text>
<line x1="322.00" y1="171.4" x2="322.00" y2="175.20000000000002" stroke="#1a1a1a" stroke-width="1.2"/>
<text x="322.20" y="180.70" text-anchor="middle" class="xl">Rb</text>
<line x1="331.65" y1="171.4" x2="331.65" y2="175.20000000000002" stroke="#1a1a1a" stroke-width="1.2"/>
<text x="331.85" y="180.70" text-anchor="middle" class="xl">Ba</text>
<line x1="341.30" y1="171.4" x2="341.30" y2="175.20000000000002" stroke="#1a1a1a" stroke-width="1.2"/>
<text x="341.50" y="180.70" text-anchor="middle" class="xl">Th</text>
<line x1="350.96" y1="171.4" x2="350.96" y2="175.20000000000002" stroke="#1a1a1a" stroke-width="1.2"/>
<text x="351.16" y="180.70" text-anchor="middle" class="xl">U</text>
<line x1="360.61" y1="171.4" x2="360.61" y2="175.20000000000002" stroke="#1a1a1a" stroke-width="1.2"/>
<text x="360.81" y="180.70" text-anchor="middle" class="xl">Nb</text>
<line x1="370.26" y1="171.4" x2="370.26" y2="175.20000000000002" stroke="#1a1a1a" stroke-width="1.2"/>
<text x="370.46" y="180.70" text-anchor="middle" class="xl">Ta</text>
<line x1="379.91" y1="171.4" x2="379.91" y2="175.20000000000002" stroke="#1a1a1a" stroke-width="1.2"/>
<text x="380.11" y="180.70" text-anchor="middle" class="xl">K</text>
<line x1="389.56" y1="171.4" x2="389.56" y2="175.20000000000002" stroke="#1a1a1a" stroke-width="1.2"/>
<text x="389.76" y="180.70" text-anchor="middle" class="xl">La</text>
<line x1="399.22" y1="171.4" x2="399.22" y2="175.20000000000002" stroke="#1a1a1a" stroke-width="1.2"/>
<text x="399.42" y="180.70" text-anchor="middle" class="xl">Ce</text>
<line x1="408.87" y1="171.4" x2="408.87" y2="175.20000000000002" stroke="#1a1a1a" stroke-width="1.2"/>
<text x="409.07" y="180.70" text-anchor="middle" class="xl">Pb</text>
<line x1="418.52" y1="171.4" x2="418.52" y2="175.20000000000002" stroke="#1a1a1a" stroke-width="1.2"/>
<text x="418.72" y="180.70" text-anchor="middle" class="xl">Pr</text>
<line x1="428.17" y1="171.4" x2="428.17" y2="175.20000000000002" stroke="#1a1a1a" stroke-width="1.2"/>
<text x="428.37" y="180.70" text-anchor="middle" class="xl">Sr</text>
<line x1="437.82" y1="171.4" x2="437.82" y2="175.20000000000002" stroke="#1a1a1a" stroke-width="1.2"/>
<text x="438.02" y="180.70" text-anchor="middle" class="xl">P</text>
<line x1="447.48" y1="171.4" x2="447.48" y2="175.20000000000002" stroke="#1a1a1a" stroke-width="1.2"/>
<text x="447.68" y="180.70" text-anchor="middle" class="xl">Nd</text>
<line x1="457.13" y1="171.4" x2="457.13" y2="175.20000000000002" stroke="#1a1a1a" stroke-width="1.2"/>
<text x="457.33" y="180.70" text-anchor="middle" class="xl">Zr</text>
<line x1="466.78" y1="171.4" x2="466.78" y2="175.20000000000002" stroke="#1a1a1a" stroke-width="1.2"/>
<text x="466.98" y="180.70" text-anchor="middle" class="xl">Hf</text>
<line x1="476.43" y1="171.4" x2="476.43" y2="175.20000000000002" stroke="#1a1a1a" stroke-width="1.2"/>
<text x="476.63" y="180.70" text-anchor="middle" class="xl">Sm</text>
<line x1="486.08" y1="171.4" x2="486.08" y2="175.20000000000002" stroke="#1a1a1a" stroke-width="1.2"/>
<text x="486.28" y="180.70" text-anchor="middle" class="xl">Eu</text>
<line x1="495.74" y1="171.4" x2="495.74" y2="175.20000000000002" stroke="#1a1a1a" stroke-width="1.2"/>
<text x="495.94" y="180.70" text-anchor="middle" class="xl">Ti</text>
<line x1="505.39" y1="171.4" x2="505.39" y2="175.20000000000002" stroke="#1a1a1a" stroke-width="1.2"/>
<text x="505.59" y="180.70" text-anchor="middle" class="xl">Dy</text>
<line x1="515.04" y1="171.4" x2="515.04" y2="175.20000000000002" stroke="#1a1a1a" stroke-width="1.2"/>
<text x="515.24" y="180.70" text-anchor="middle" class="xl">Y</text>
<line x1="524.69" y1="171.4" x2="524.69" y2="175.20000000000002" stroke="#1a1a1a" stroke-width="1.2"/>
<text x="524.89" y="180.70" text-anchor="middle" class="xl">Yb</text>
<line x1="534.34" y1="171.4" x2="534.34" y2="175.20000000000002" stroke="#1a1a1a" stroke-width="1.2"/>
<text x="534.54" y="180.70" text-anchor="middle" class="xl">Lu</text>
<text x="310.9" y="18.45" class="pl">(b)</text>
<text transform="translate(284.3,87.80) rotate(-90)" text-anchor="middle" class="yl">Peridotite/primitive mantle</text>
<line x1="36.9" y1="298.93" x2="270.4" y2="298.93" stroke="#ababab" stroke-width="1.2" stroke-dasharray="7.5,1.9"/>
<line x1="35.4" y1="243.57" x2="270.4" y2="243.57" stroke="#bdbdbd" stroke-width="1.1" stroke-dasharray="1.2,1.0"/>
<polyline points="40.20,240.50 57.30,238.60 74.39,234.70 91.49,231.00 108.58,232.30 125.68,234.70 142.78,240.50 159.87,244.50 176.97,249.50 194.06,256.20 211.16,258.50 228.26,266.70 245.35,270.50 262.45,268.20" fill="none" stroke="#3cc6c6" stroke-width="1.2" stroke-dasharray="2.8,1.4" stroke-linejoin="round"/>
<rect x="38.90" y="239.20" width="2.60" height="2.60" fill="#3cc6c6"/>
<rect x="56.00" y="237.30" width="2.60" height="2.60" fill="#3cc6c6"/>
<rect x="73.09" y="233.40" width="2.60" height="2.60" fill="#3cc6c6"/>
<rect x="90.19" y="229.70" width="2.60" height="2.60" fill="#3cc6c6"/>
<rect x="107.28" y="231.00" width="2.60" height="2.60" fill="#3cc6c6"/>
<rect x="124.38" y="233.40" width="2.60" height="2.60" fill="#3cc6c6"/>
<rect x="141.48" y="239.20" width="2.60" height="2.60" fill="#3cc6c6"/>
<rect x="158.57" y="243.20" width="2.60" height="2.60" fill="#3cc6c6"/>
<rect x="175.67" y="248.20" width="2.60" height="2.60" fill="#3cc6c6"/>
<rect x="192.76" y="254.90" width="2.60" height="2.60" fill="#3cc6c6"/>
<rect x="209.86" y="257.20" width="2.60" height="2.60" fill="#3cc6c6"/>
<rect x="226.96" y="265.40" width="2.60" height="2.60" fill="#3cc6c6"/>
<rect x="244.05" y="269.20" width="2.60" height="2.60" fill="#3cc6c6"/>
<rect x="261.15" y="266.90" width="2.60" height="2.60" fill="#3cc6c6"/>
<polyline points="40.20,241.30 57.30,238.60 74.39,235.40 91.49,233.00 108.58,235.50 125.68,236.40 142.78,242.10 159.87,247.00 176.97,252.40 194.06,260.00 211.16,264.80 228.26,269.60 245.35,270.50 262.45,270.50" fill="none" stroke="#3cc6c6" stroke-width="1.2" stroke-dasharray="2.8,1.4" stroke-linejoin="round"/>
<rect x="38.90" y="240.00" width="2.60" height="2.60" fill="#3cc6c6"/>
<rect x="56.00" y="237.30" width="2.60" height="2.60" fill="#3cc6c6"/>
<rect x="73.09" y="234.10" width="2.60" height="2.60" fill="#3cc6c6"/>
<rect x="90.19" y="231.70" width="2.60" height="2.60" fill="#3cc6c6"/>
<rect x="107.28" y="234.20" width="2.60" height="2.60" fill="#3cc6c6"/>
<rect x="124.38" y="235.10" width="2.60" height="2.60" fill="#3cc6c6"/>
<rect x="141.48" y="240.80" width="2.60" height="2.60" fill="#3cc6c6"/>
<rect x="158.57" y="245.70" width="2.60" height="2.60" fill="#3cc6c6"/>
<rect x="175.67" y="251.10" width="2.60" height="2.60" fill="#3cc6c6"/>
<rect x="192.76" y="258.70" width="2.60" height="2.60" fill="#3cc6c6"/>
<rect x="209.86" y="263.50" width="2.60" height="2.60" fill="#3cc6c6"/>
<rect x="226.96" y="268.30" width="2.60" height="2.60" fill="#3cc6c6"/>
<rect x="244.05" y="269.20" width="2.60" height="2.60" fill="#3cc6c6"/>
<rect x="261.15" y="269.20" width="2.60" height="2.60" fill="#3cc6c6"/>
<polyline points="40.20,240.50 57.30,238.60 74.39,236.00 91.49,236.00 108.58,238.00 125.68,239.60 142.78,244.50 159.87,250.30 176.97,256.80 194.06,262.90 211.16,266.10 228.26,270.50 245.35,275.30 262.45,275.90" fill="none" stroke="#1e6f7e" stroke-width="1.2" stroke-dasharray="2.8,1.4" stroke-linejoin="round"/>
<rect x="38.90" y="239.20" width="2.60" height="2.60" fill="#1e6f7e"/>
<rect x="56.00" y="237.30" width="2.60" height="2.60" fill="#1e6f7e"/>
<rect x="73.09" y="234.70" width="2.60" height="2.60" fill="#1e6f7e"/>
<rect x="90.19" y="234.70" width="2.60" height="2.60" fill="#1e6f7e"/>
<rect x="107.28" y="236.70" width="2.60" height="2.60" fill="#1e6f7e"/>
<rect x="124.38" y="238.30" width="2.60" height="2.60" fill="#1e6f7e"/>
<rect x="141.48" y="243.20" width="2.60" height="2.60" fill="#1e6f7e"/>
<rect x="158.57" y="249.00" width="2.60" height="2.60" fill="#1e6f7e"/>
<rect x="175.67" y="255.50" width="2.60" height="2.60" fill="#1e6f7e"/>
<rect x="192.76" y="261.60" width="2.60" height="2.60" fill="#1e6f7e"/>
<rect x="209.86" y="264.80" width="2.60" height="2.60" fill="#1e6f7e"/>
<rect x="226.96" y="269.20" width="2.60" height="2.60" fill="#1e6f7e"/>
<rect x="244.05" y="274.00" width="2.60" height="2.60" fill="#1e6f7e"/>
<rect x="261.15" y="274.60" width="2.60" height="2.60" fill="#1e6f7e"/>
<polyline points="40.20,241.90 57.30,243.50 74.39,239.20 91.49,237.90 108.58,240.50 125.68,242.90 142.78,249.10 159.87,253.60 176.97,259.10 194.06,265.80 211.16,270.50 228.26,274.90 245.35,276.80 262.45,276.30" fill="none" stroke="#ee3b2f" stroke-width="1.2" stroke-linejoin="round"/>
<circle cx="40.20" cy="241.90" r="1.0" fill="#ee3b2f"/>
<circle cx="57.30" cy="243.50" r="1.0" fill="#ee3b2f"/>
<circle cx="74.39" cy="239.20" r="1.0" fill="#ee3b2f"/>
<circle cx="91.49" cy="237.90" r="1.0" fill="#ee3b2f"/>
<circle cx="108.58" cy="240.50" r="1.0" fill="#ee3b2f"/>
<circle cx="125.68" cy="242.90" r="1.0" fill="#ee3b2f"/>
<circle cx="142.78" cy="249.10" r="1.0" fill="#ee3b2f"/>
<circle cx="159.87" cy="253.60" r="1.0" fill="#ee3b2f"/>
<circle cx="176.97" cy="259.10" r="1.0" fill="#ee3b2f"/>
<circle cx="194.06" cy="265.80" r="1.0" fill="#ee3b2f"/>
<circle cx="211.16" cy="270.50" r="1.0" fill="#ee3b2f"/>
<circle cx="228.26" cy="274.90" r="1.0" fill="#ee3b2f"/>
<circle cx="245.35" cy="276.80" r="1.0" fill="#ee3b2f"/>
<circle cx="262.45" cy="276.30" r="1.0" fill="#ee3b2f"/>
<polyline points="40.20,233.90 57.30,241.90 74.39,244.80 91.49,247.90 108.58,253.60 125.68,255.70 142.78,263.40 159.87,268.30 176.97,273.20 194.06,279.10 211.16,282.00 228.26,287.70 245.35,291.50 262.45,293.40" fill="none" stroke="#1a8040" stroke-width="1.4" stroke-linejoin="round"/>
<path d="M40.20,231.28 L42.72,235.69 L37.68,235.69Z" fill="#1a8040"/>
<path d="M57.30,239.28 L59.82,243.69 L54.78,243.69Z" fill="#1a8040"/>
<path d="M74.39,242.18 L76.91,246.59 L71.87,246.59Z" fill="#1a8040"/>
<path d="M91.49,245.28 L94.01,249.69 L88.97,249.69Z" fill="#1a8040"/>
<path d="M108.58,250.97 L111.10,255.38 L106.06,255.38Z" fill="#1a8040"/>
<path d="M125.68,253.07 L128.20,257.49 L123.16,257.49Z" fill="#1a8040"/>
<path d="M142.78,260.77 L145.30,265.19 L140.26,265.19Z" fill="#1a8040"/>
<path d="M159.87,265.68 L162.39,270.09 L157.35,270.09Z" fill="#1a8040"/>
<path d="M176.97,270.57 L179.49,274.99 L174.45,274.99Z" fill="#1a8040"/>
<path d="M194.06,276.48 L196.58,280.89 L191.54,280.89Z" fill="#1a8040"/>
<path d="M211.16,279.38 L213.68,283.79 L208.64,283.79Z" fill="#1a8040"/>
<path d="M228.26,285.07 L230.78,289.49 L225.74,289.49Z" fill="#1a8040"/>
<path d="M245.35,288.88 L247.87,293.29 L242.83,293.29Z" fill="#1a8040"/>
<path d="M262.45,290.77 L264.97,295.19 L259.93,295.19Z" fill="#1a8040"/>
<polyline points="40.20,238.60 57.30,237.20 74.39,238.30 91.49,239.00 108.58,242.90 125.68,246.50 142.78,251.90 159.87,258.00 176.97,264.20 194.06,270.50 211.16,275.30 228.26,282.90 245.35,285.20 262.45,283.90" fill="none" stroke="#1a8040" stroke-width="1.4" stroke-linejoin="round"/>
<path d="M40.20,235.97 L42.72,240.38 L37.68,240.38Z" fill="#1a8040"/>
<path d="M57.30,234.57 L59.82,238.98 L54.78,238.98Z" fill="#1a8040"/>
<path d="M74.39,235.68 L76.91,240.09 L71.87,240.09Z" fill="#1a8040"/>
<path d="M91.49,236.38 L94.01,240.78 L88.97,240.78Z" fill="#1a8040"/>
<path d="M108.58,240.28 L111.10,244.69 L106.06,244.69Z" fill="#1a8040"/>
<path d="M125.68,243.88 L128.20,248.28 L123.16,248.28Z" fill="#1a8040"/>
<path d="M142.78,249.28 L145.30,253.69 L140.26,253.69Z" fill="#1a8040"/>
<path d="M159.87,255.38 L162.39,259.79 L157.35,259.79Z" fill="#1a8040"/>
<path d="M176.97,261.57 L179.49,265.99 L174.45,265.99Z" fill="#1a8040"/>
<path d="M194.06,267.88 L196.58,272.29 L191.54,272.29Z" fill="#1a8040"/>
<path d="M211.16,272.68 L213.68,277.09 L208.64,277.09Z" fill="#1a8040"/>
<path d="M228.26,280.27 L230.78,284.69 L225.74,284.69Z" fill="#1a8040"/>
<path d="M245.35,282.57 L247.87,286.99 L242.83,286.99Z" fill="#1a8040"/>
<path d="M262.45,281.27 L264.97,285.69 L259.93,285.69Z" fill="#1a8040"/>
<polyline points="40.20,247.40 57.30,253.10 74.39,250.80 91.49,248.40 108.58,253.60 125.68,255.70 142.78,263.40 159.87,268.30 176.97,274.80 194.06,282.90 211.16,284.80 228.26,287.70 245.35,294.40 262.45,294.40" fill="none" stroke="#1a8040" stroke-width="1.4" stroke-linejoin="round"/>
<path d="M40.20,244.78 L42.72,249.19 L37.68,249.19Z" fill="#1a8040"/>
<path d="M57.30,250.47 L59.82,254.88 L54.78,254.88Z" fill="#1a8040"/>
<path d="M74.39,248.18 L76.91,252.59 L71.87,252.59Z" fill="#1a8040"/>
<path d="M91.49,245.78 L94.01,250.19 L88.97,250.19Z" fill="#1a8040"/>
<path d="M108.58,250.97 L111.10,255.38 L106.06,255.38Z" fill="#1a8040"/>
<path d="M125.68,253.07 L128.20,257.49 L123.16,257.49Z" fill="#1a8040"/>
<path d="M142.78,260.77 L145.30,265.19 L140.26,265.19Z" fill="#1a8040"/>
<path d="M159.87,265.68 L162.39,270.09 L157.35,270.09Z" fill="#1a8040"/>
<path d="M176.97,272.18 L179.49,276.59 L174.45,276.59Z" fill="#1a8040"/>
<path d="M194.06,280.27 L196.58,284.69 L191.54,284.69Z" fill="#1a8040"/>
<path d="M211.16,282.18 L213.68,286.59 L208.64,286.59Z" fill="#1a8040"/>
<path d="M228.26,285.07 L230.78,289.49 L225.74,289.49Z" fill="#1a8040"/>
<path d="M245.35,291.77 L247.87,296.19 L242.83,296.19Z" fill="#1a8040"/>
<path d="M262.45,291.77 L264.97,296.19 L259.93,296.19Z" fill="#1a8040"/>
<rect x="31.4" y="188.2" width="239.99999999999997" height="166.10000000000002" fill="none" stroke="#1a1a1a" stroke-width="1.1"/>
<line x1="27.599999999999998" y1="354.30" x2="34.9" y2="354.30" stroke="#1a1a1a" stroke-width="1.2"/>
<line x1="31.4" y1="337.63" x2="34.9" y2="337.63" stroke="#1a1a1a" stroke-width="1.25"/>
<line x1="31.4" y1="327.88" x2="34.9" y2="327.88" stroke="#1a1a1a" stroke-width="1.25"/>
<line x1="31.4" y1="320.97" x2="34.9" y2="320.97" stroke="#1a1a1a" stroke-width="1.25"/>
<line x1="31.4" y1="315.60" x2="34.9" y2="315.60" stroke="#1a1a1a" stroke-width="1.25"/>
<line x1="31.4" y1="311.22" x2="34.9" y2="311.22" stroke="#1a1a1a" stroke-width="1.25"/>
<line x1="31.4" y1="307.51" x2="34.9" y2="307.51" stroke="#1a1a1a" stroke-width="1.25"/>
<line x1="31.4" y1="304.30" x2="34.9" y2="304.30" stroke="#1a1a1a" stroke-width="1.25"/>
<line x1="31.4" y1="301.47" x2="34.9" y2="301.47" stroke="#1a1a1a" stroke-width="1.25"/>
<text x="26.2" y="356.40" text-anchor="end" class="tl">0.1</text>
<line x1="27.599999999999998" y1="298.93" x2="34.9" y2="298.93" stroke="#1a1a1a" stroke-width="1.2"/>
<line x1="31.4" y1="282.27" x2="34.9" y2="282.27" stroke="#1a1a1a" stroke-width="1.25"/>
<line x1="31.4" y1="272.52" x2="34.9" y2="272.52" stroke="#1a1a1a" stroke-width="1.25"/>
<line x1="31.4" y1="265.60" x2="34.9" y2="265.60" stroke="#1a1a1a" stroke-width="1.25"/>
<line x1="31.4" y1="260.23" x2="34.9" y2="260.23" stroke="#1a1a1a" stroke-width="1.25"/>
<line x1="31.4" y1="255.85" x2="34.9" y2="255.85" stroke="#1a1a1a" stroke-width="1.25"/>
<line x1="31.4" y1="252.14" x2="34.9" y2="252.14" stroke="#1a1a1a" stroke-width="1.25"/>
<line x1="31.4" y1="248.93" x2="34.9" y2="248.93" stroke="#1a1a1a" stroke-width="1.25"/>
<line x1="31.4" y1="246.10" x2="34.9" y2="246.10" stroke="#1a1a1a" stroke-width="1.25"/>
<text x="26.2" y="301.03" text-anchor="end" class="tl">1</text>
<line x1="27.599999999999998" y1="243.57" x2="34.9" y2="243.57" stroke="#1a1a1a" stroke-width="1.2"/>
<line x1="31.4" y1="226.90" x2="34.9" y2="226.90" stroke="#1a1a1a" stroke-width="1.25"/>
<line x1="31.4" y1="217.15" x2="34.9" y2="217.15" stroke="#1a1a1a" stroke-width="1.25"/>
<line x1="31.4" y1="210.23" x2="34.9" y2="210.23" stroke="#1a1a1a" stroke-width="1.25"/>
<line x1="31.4" y1="204.87" x2="34.9" y2="204.87" stroke="#1a1a1a" stroke-width="1.25"/>
<line x1="31.4" y1="200.48" x2="34.9" y2="200.48" stroke="#1a1a1a" stroke-width="1.25"/>
<line x1="31.4" y1="196.78" x2="34.9" y2="196.78" stroke="#1a1a1a" stroke-width="1.25"/>
<line x1="31.4" y1="193.57" x2="34.9" y2="193.57" stroke="#1a1a1a" stroke-width="1.25"/>
<line x1="31.4" y1="190.73" x2="34.9" y2="190.73" stroke="#1a1a1a" stroke-width="1.25"/>
<text x="26.2" y="245.67" text-anchor="end" class="tl">10</text>
<line x1="27.599999999999998" y1="188.20" x2="34.9" y2="188.20" stroke="#1a1a1a" stroke-width="1.2"/>
<text x="26.2" y="190.30" text-anchor="end" class="tl">100</text>
<line x1="40.20" y1="354.3" x2="40.20" y2="358.1" stroke="#1a1a1a" stroke-width="1.2"/>
<text x="41.00" y="363.60" text-anchor="middle" class="xl">La</text>
<line x1="57.30" y1="354.3" x2="57.30" y2="358.1" stroke="#1a1a1a" stroke-width="1.2"/>
<text x="58.10" y="363.60" text-anchor="middle" class="xl">Ce</text>
<line x1="74.39" y1="354.3" x2="74.39" y2="358.1" stroke="#1a1a1a" stroke-width="1.2"/>
<text x="75.19" y="363.60" text-anchor="middle" class="xl">Pr</text>
<line x1="91.49" y1="354.3" x2="91.49" y2="358.1" stroke="#1a1a1a" stroke-width="1.2"/>
<text x="92.29" y="363.60" text-anchor="middle" class="xl">Nd</text>
<line x1="108.58" y1="354.3" x2="108.58" y2="358.1" stroke="#1a1a1a" stroke-width="1.2"/>
<text x="109.38" y="363.60" text-anchor="middle" class="xl">Sm</text>
<line x1="125.68" y1="354.3" x2="125.68" y2="358.1" stroke="#1a1a1a" stroke-width="1.2"/>
<text x="126.48" y="363.60" text-anchor="middle" class="xl">Eu</text>
<line x1="142.78" y1="354.3" x2="142.78" y2="358.1" stroke="#1a1a1a" stroke-width="1.2"/>
<text x="143.58" y="363.60" text-anchor="middle" class="xl">Gd</text>
<line x1="159.87" y1="354.3" x2="159.87" y2="358.1" stroke="#1a1a1a" stroke-width="1.2"/>
<text x="160.67" y="363.60" text-anchor="middle" class="xl">Tb</text>
<line x1="176.97" y1="354.3" x2="176.97" y2="358.1" stroke="#1a1a1a" stroke-width="1.2"/>
<text x="177.77" y="363.60" text-anchor="middle" class="xl">Dy</text>
<line x1="194.06" y1="354.3" x2="194.06" y2="358.1" stroke="#1a1a1a" stroke-width="1.2"/>
<text x="194.86" y="363.60" text-anchor="middle" class="xl">Ho</text>
<line x1="211.16" y1="354.3" x2="211.16" y2="358.1" stroke="#1a1a1a" stroke-width="1.2"/>
<text x="211.96" y="363.60" text-anchor="middle" class="xl">Er</text>
<line x1="228.26" y1="354.3" x2="228.26" y2="358.1" stroke="#1a1a1a" stroke-width="1.2"/>
<text x="229.06" y="363.60" text-anchor="middle" class="xl">Tm</text>
<line x1="245.35" y1="354.3" x2="245.35" y2="358.1" stroke="#1a1a1a" stroke-width="1.2"/>
<text x="246.15" y="363.60" text-anchor="middle" class="xl">Yb</text>
<line x1="262.45" y1="354.3" x2="262.45" y2="358.1" stroke="#1a1a1a" stroke-width="1.2"/>
<text x="263.25" y="363.60" text-anchor="middle" class="xl">Lu</text>
<text x="37.8" y="201.0" class="pl">(c)</text>
<text transform="translate(11.9,270.20) rotate(-90)" text-anchor="middle" class="yl">Peridotite/chondrite</text>
<line x1="44.4" y1="307.3" x2="61.5" y2="307.3" stroke="#1a8040" stroke-width="1.2"/><path d="M53,305 L55.3,308.8 L50.7,308.8Z" fill="#1a8040"/>
<text x="65.5" y="310.9" class="lg3" textLength="38.6" lengthAdjust="spacingAndGlyphs">Wehrlites</text>
<line x1="44.4" y1="320.4" x2="61.5" y2="320.4" stroke="#ee3b2f" stroke-width="1.1"/><circle cx="53" cy="320.4" r="0.9" fill="#ee3b2f"/>
<text x="65.5" y="323.3" class="lg3" textLength="44.8" lengthAdjust="spacingAndGlyphs">Websterite</text>
<line x1="44.4" y1="332.7" x2="61.5" y2="332.7" stroke="#3cc6c6" stroke-width="1.1" stroke-dasharray="3,1.6"/><circle cx="53" cy="332.7" r="1.4" fill="#3cc6c6"/>
<text x="65.5" y="336.1" class="lg3" textLength="97.8" lengthAdjust="spacingAndGlyphs">Olivine Clinopyroxenites</text>
<line x1="44.4" y1="345.1" x2="61.5" y2="345.1" stroke="#1e6f7e" stroke-width="1.1" stroke-dasharray="3,1.6"/><circle cx="53" cy="345.1" r="1.5" fill="#1e6f7e"/>
<text x="65.5" y="348.0" class="lg3" textLength="64.1" lengthAdjust="spacingAndGlyphs">Clinopyroxenite</text>
<line x1="307.4" y1="312.91" x2="542.3" y2="312.91" stroke="#bdbdbd" stroke-width="1.1" stroke-dasharray="1.2,1.0"/>
<line x1="308.9" y1="271.42" x2="542.3" y2="271.42" stroke="#ababab" stroke-width="1.2" stroke-dasharray="7.5,1.9"/>
<line x1="307.4" y1="229.94" x2="542.3" y2="229.94" stroke="#bdbdbd" stroke-width="1.1" stroke-dasharray="1.2,1.0"/>
<polyline points="322.00,263.40 331.65,236.40 341.30,265.00 350.96,244.50 360.61,253.60 370.26,251.10 379.91,277.90 389.56,245.40 399.22,241.40 408.87,278.20 418.52,240.50 428.17,244.60 437.82,271.60 447.48,238.90 457.13,246.30 466.78,244.60 476.43,241.40 486.08,242.70 495.74,245.50 505.39,254.50 515.04,258.60 524.69,269.20 534.34,267.20" fill="none" stroke="#3cc6c6" stroke-width="1.2" stroke-dasharray="2.8,1.4" stroke-linejoin="round"/>
<rect x="320.70" y="262.10" width="2.60" height="2.60" fill="#3cc6c6"/>
<rect x="330.35" y="235.10" width="2.60" height="2.60" fill="#3cc6c6"/>
<rect x="340.00" y="263.70" width="2.60" height="2.60" fill="#3cc6c6"/>
<rect x="349.66" y="243.20" width="2.60" height="2.60" fill="#3cc6c6"/>
<rect x="359.31" y="252.30" width="2.60" height="2.60" fill="#3cc6c6"/>
<rect x="368.96" y="249.80" width="2.60" height="2.60" fill="#3cc6c6"/>
<rect x="378.61" y="276.60" width="2.60" height="2.60" fill="#3cc6c6"/>
<rect x="388.26" y="244.10" width="2.60" height="2.60" fill="#3cc6c6"/>
<rect x="397.92" y="240.10" width="2.60" height="2.60" fill="#3cc6c6"/>
<rect x="407.57" y="276.90" width="2.60" height="2.60" fill="#3cc6c6"/>
<rect x="417.22" y="239.20" width="2.60" height="2.60" fill="#3cc6c6"/>
<rect x="426.87" y="243.30" width="2.60" height="2.60" fill="#3cc6c6"/>
<rect x="436.52" y="270.30" width="2.60" height="2.60" fill="#3cc6c6"/>
<rect x="446.18" y="237.60" width="2.60" height="2.60" fill="#3cc6c6"/>
<rect x="455.83" y="245.00" width="2.60" height="2.60" fill="#3cc6c6"/>
<rect x="465.48" y="243.30" width="2.60" height="2.60" fill="#3cc6c6"/>
<rect x="475.13" y="240.10" width="2.60" height="2.60" fill="#3cc6c6"/>
<rect x="484.78" y="241.40" width="2.60" height="2.60" fill="#3cc6c6"/>
<rect x="494.44" y="244.20" width="2.60" height="2.60" fill="#3cc6c6"/>
<rect x="504.09" y="253.20" width="2.60" height="2.60" fill="#3cc6c6"/>
<rect x="513.74" y="257.30" width="2.60" height="2.60" fill="#3cc6c6"/>
<rect x="523.39" y="267.90" width="2.60" height="2.60" fill="#3cc6c6"/>
<rect x="533.04" y="265.90" width="2.60" height="2.60" fill="#3cc6c6"/>
<polyline points="331.65,266.60 341.30,267.50 350.96,251.90 360.61,260.10 370.26,266.60 379.91,291.30 389.56,244.60 399.22,244.60 408.87,250.40 418.52,243.00 428.17,248.00 437.82,283.10 447.48,243.00 457.13,247.90 466.78,246.30 476.43,244.60 486.08,246.30 495.74,251.20 505.39,258.60 515.04,264.30 524.69,271.60 534.34,272.50" fill="none" stroke="#1e6f7e" stroke-width="1.2" stroke-dasharray="2.8,1.4" stroke-linejoin="round"/>
<rect x="330.35" y="265.30" width="2.60" height="2.60" fill="#1e6f7e"/>
<rect x="340.00" y="266.20" width="2.60" height="2.60" fill="#1e6f7e"/>
<rect x="349.66" y="250.60" width="2.60" height="2.60" fill="#1e6f7e"/>
<rect x="359.31" y="258.80" width="2.60" height="2.60" fill="#1e6f7e"/>
<rect x="368.96" y="265.30" width="2.60" height="2.60" fill="#1e6f7e"/>
<rect x="378.61" y="290.00" width="2.60" height="2.60" fill="#1e6f7e"/>
<rect x="388.26" y="243.30" width="2.60" height="2.60" fill="#1e6f7e"/>
<rect x="397.92" y="243.30" width="2.60" height="2.60" fill="#1e6f7e"/>
<rect x="407.57" y="249.10" width="2.60" height="2.60" fill="#1e6f7e"/>
<rect x="417.22" y="241.70" width="2.60" height="2.60" fill="#1e6f7e"/>
<rect x="426.87" y="246.70" width="2.60" height="2.60" fill="#1e6f7e"/>
<rect x="436.52" y="281.80" width="2.60" height="2.60" fill="#1e6f7e"/>
<rect x="446.18" y="241.70" width="2.60" height="2.60" fill="#1e6f7e"/>
<rect x="455.83" y="246.60" width="2.60" height="2.60" fill="#1e6f7e"/>
<rect x="465.48" y="245.00" width="2.60" height="2.60" fill="#1e6f7e"/>
<rect x="475.13" y="243.30" width="2.60" height="2.60" fill="#1e6f7e"/>
<rect x="484.78" y="245.00" width="2.60" height="2.60" fill="#1e6f7e"/>
<rect x="494.44" y="249.90" width="2.60" height="2.60" fill="#1e6f7e"/>
<rect x="504.09" y="257.30" width="2.60" height="2.60" fill="#1e6f7e"/>
<rect x="513.74" y="263.00" width="2.60" height="2.60" fill="#1e6f7e"/>
<rect x="523.39" y="270.30" width="2.60" height="2.60" fill="#1e6f7e"/>
<rect x="533.04" y="271.20" width="2.60" height="2.60" fill="#1e6f7e"/>
<polyline points="331.65,253.60 341.30,259.30 350.96,264.20 360.61,256.80 370.26,252.70 379.91,291.30 389.56,248.10 399.22,248.70 408.87,258.60 418.52,246.30 428.17,248.70 437.82,264.30 447.48,245.50 457.13,258.60 466.78,259.00 476.43,247.60 486.08,249.20 495.74,253.60 505.39,260.20 515.04,266.70 524.69,273.80 534.34,273.30" fill="none" stroke="#ee3b2f" stroke-width="1.2" stroke-linejoin="round"/>
<circle cx="331.65" cy="253.60" r="1.0" fill="#ee3b2f"/>
<circle cx="341.30" cy="259.30" r="1.0" fill="#ee3b2f"/>
<circle cx="350.96" cy="264.20" r="1.0" fill="#ee3b2f"/>
<circle cx="360.61" cy="256.80" r="1.0" fill="#ee3b2f"/>
<circle cx="370.26" cy="252.70" r="1.0" fill="#ee3b2f"/>
<circle cx="379.91" cy="291.30" r="1.0" fill="#ee3b2f"/>
<circle cx="389.56" cy="248.10" r="1.0" fill="#ee3b2f"/>
<circle cx="399.22" cy="248.70" r="1.0" fill="#ee3b2f"/>
<circle cx="408.87" cy="258.60" r="1.0" fill="#ee3b2f"/>
<circle cx="418.52" cy="246.30" r="1.0" fill="#ee3b2f"/>
<circle cx="428.17" cy="248.70" r="1.0" fill="#ee3b2f"/>
<circle cx="437.82" cy="264.30" r="1.0" fill="#ee3b2f"/>
<circle cx="447.48" cy="245.50" r="1.0" fill="#ee3b2f"/>
<circle cx="457.13" cy="258.60" r="1.0" fill="#ee3b2f"/>
<circle cx="466.78" cy="259.00" r="1.0" fill="#ee3b2f"/>
<circle cx="476.43" cy="247.60" r="1.0" fill="#ee3b2f"/>
<circle cx="486.08" cy="249.20" r="1.0" fill="#ee3b2f"/>
<circle cx="495.74" cy="253.60" r="1.0" fill="#ee3b2f"/>
<circle cx="505.39" cy="260.20" r="1.0" fill="#ee3b2f"/>
<circle cx="515.04" cy="266.70" r="1.0" fill="#ee3b2f"/>
<circle cx="524.69" cy="273.80" r="1.0" fill="#ee3b2f"/>
<circle cx="534.34" cy="273.30" r="1.0" fill="#ee3b2f"/>
<polyline points="322.00,275.60 331.65,230.60 341.30,272.20 350.96,228.20 360.61,255.20 370.26,264.20 379.91,291.30 389.56,242.10 399.22,244.60 408.87,246.30 418.52,249.50 428.17,253.60 437.82,250.40 447.48,252.00 457.13,254.50 466.78,255.30 476.43,249.50 486.08,252.00 495.74,253.60 505.39,265.10 515.04,270.80 524.69,279.80 534.34,279.80" fill="none" stroke="#1a8040" stroke-width="1.4" stroke-linejoin="round"/>
<path d="M322.00,272.98 L324.52,277.39 L319.48,277.39Z" fill="#1a8040"/>
<path d="M331.65,227.97 L334.17,232.38 L329.13,232.38Z" fill="#1a8040"/>
<path d="M341.30,269.57 L343.82,273.99 L338.78,273.99Z" fill="#1a8040"/>
<path d="M350.96,225.57 L353.48,229.98 L348.44,229.98Z" fill="#1a8040"/>
<path d="M360.61,252.57 L363.13,256.99 L358.09,256.99Z" fill="#1a8040"/>
<path d="M370.26,261.57 L372.78,265.99 L367.74,265.99Z" fill="#1a8040"/>
<path d="M379.91,288.68 L382.43,293.09 L377.39,293.09Z" fill="#1a8040"/>
<path d="M389.56,239.47 L392.08,243.88 L387.04,243.88Z" fill="#1a8040"/>
<path d="M399.22,241.97 L401.74,246.38 L396.70,246.38Z" fill="#1a8040"/>
<path d="M408.87,243.68 L411.39,248.09 L406.35,248.09Z" fill="#1a8040"/>
<path d="M418.52,246.88 L421.04,251.28 L416.00,251.28Z" fill="#1a8040"/>
<path d="M428.17,250.97 L430.69,255.38 L425.65,255.38Z" fill="#1a8040"/>
<path d="M437.82,247.78 L440.34,252.19 L435.30,252.19Z" fill="#1a8040"/>
<path d="M447.48,249.38 L450.00,253.78 L444.96,253.78Z" fill="#1a8040"/>
<path d="M457.13,251.88 L459.65,256.29 L454.61,256.29Z" fill="#1a8040"/>
<path d="M466.78,252.68 L469.30,257.09 L464.26,257.09Z" fill="#1a8040"/>
<path d="M476.43,246.88 L478.95,251.28 L473.91,251.28Z" fill="#1a8040"/>
<path d="M486.08,249.38 L488.60,253.78 L483.56,253.78Z" fill="#1a8040"/>
<path d="M495.74,250.97 L498.26,255.38 L493.22,255.38Z" fill="#1a8040"/>
<path d="M505.39,262.48 L507.91,266.89 L502.87,266.89Z" fill="#1a8040"/>
<path d="M515.04,268.18 L517.56,272.59 L512.52,272.59Z" fill="#1a8040"/>
<path d="M524.69,277.18 L527.21,281.59 L522.17,281.59Z" fill="#1a8040"/>
<path d="M534.34,277.18 L536.86,281.59 L531.82,281.59Z" fill="#1a8040"/>
<polyline points="331.65,248.60 341.30,250.30 350.96,297.20 360.61,242.90 370.26,244.50 379.91,249.50 389.56,253.60 399.22,256.10 408.87,263.50 418.52,254.50 428.17,258.60 437.82,283.10 447.48,252.00 457.13,267.90 466.78,263.00 476.43,256.10 486.08,259.00 495.74,261.80 505.39,271.60 515.04,277.00 524.69,285.60 534.34,285.60" fill="none" stroke="#1a8040" stroke-width="1.4" stroke-linejoin="round"/>
<path d="M331.65,245.97 L334.17,250.38 L329.13,250.38Z" fill="#1a8040"/>
<path d="M341.30,247.68 L343.82,252.09 L338.78,252.09Z" fill="#1a8040"/>
<path d="M350.96,294.57 L353.48,298.99 L348.44,298.99Z" fill="#1a8040"/>
<path d="M360.61,240.28 L363.13,244.69 L358.09,244.69Z" fill="#1a8040"/>
<path d="M370.26,241.88 L372.78,246.28 L367.74,246.28Z" fill="#1a8040"/>
<path d="M379.91,246.88 L382.43,251.28 L377.39,251.28Z" fill="#1a8040"/>
<path d="M389.56,250.97 L392.08,255.38 L387.04,255.38Z" fill="#1a8040"/>
<path d="M399.22,253.48 L401.74,257.89 L396.70,257.89Z" fill="#1a8040"/>
<path d="M408.87,260.88 L411.39,265.29 L406.35,265.29Z" fill="#1a8040"/>
<path d="M418.52,251.88 L421.04,256.29 L416.00,256.29Z" fill="#1a8040"/>
<path d="M428.17,255.98 L430.69,260.39 L425.65,260.39Z" fill="#1a8040"/>
<path d="M437.82,280.48 L440.34,284.89 L435.30,284.89Z" fill="#1a8040"/>
<path d="M447.48,249.38 L450.00,253.78 L444.96,253.78Z" fill="#1a8040"/>
<path d="M457.13,265.27 L459.65,269.69 L454.61,269.69Z" fill="#1a8040"/>
<path d="M466.78,260.38 L469.30,264.79 L464.26,264.79Z" fill="#1a8040"/>
<path d="M476.43,253.48 L478.95,257.89 L473.91,257.89Z" fill="#1a8040"/>
<path d="M486.08,256.38 L488.60,260.79 L483.56,260.79Z" fill="#1a8040"/>
<path d="M495.74,259.18 L498.26,263.59 L493.22,263.59Z" fill="#1a8040"/>
<path d="M505.39,268.98 L507.91,273.39 L502.87,273.39Z" fill="#1a8040"/>
<path d="M515.04,274.38 L517.56,278.79 L512.52,278.79Z" fill="#1a8040"/>
<path d="M524.69,282.98 L527.21,287.39 L522.17,287.39Z" fill="#1a8040"/>
<path d="M534.34,282.98 L536.86,287.39 L531.82,287.39Z" fill="#1a8040"/>
<rect x="303.4" y="188.45" width="239.89999999999998" height="165.95" fill="none" stroke="#1a1a1a" stroke-width="1.1"/>
<line x1="299.59999999999997" y1="354.40" x2="306.9" y2="354.40" stroke="#1a1a1a" stroke-width="1.2"/>
<line x1="303.4" y1="341.91" x2="306.9" y2="341.91" stroke="#1a1a1a" stroke-width="1.25"/>
<line x1="303.4" y1="334.61" x2="306.9" y2="334.61" stroke="#1a1a1a" stroke-width="1.25"/>
<line x1="303.4" y1="329.42" x2="306.9" y2="329.42" stroke="#1a1a1a" stroke-width="1.25"/>
<line x1="303.4" y1="325.40" x2="306.9" y2="325.40" stroke="#1a1a1a" stroke-width="1.25"/>
<line x1="303.4" y1="322.12" x2="306.9" y2="322.12" stroke="#1a1a1a" stroke-width="1.25"/>
<line x1="303.4" y1="319.34" x2="306.9" y2="319.34" stroke="#1a1a1a" stroke-width="1.25"/>
<line x1="303.4" y1="316.93" x2="306.9" y2="316.93" stroke="#1a1a1a" stroke-width="1.25"/>
<line x1="303.4" y1="314.81" x2="306.9" y2="314.81" stroke="#1a1a1a" stroke-width="1.25"/>
<text x="298.2" y="356.50" text-anchor="end" class="tl">0.01</text>
<line x1="299.59999999999997" y1="312.91" x2="306.9" y2="312.91" stroke="#1a1a1a" stroke-width="1.2"/>
<line x1="303.4" y1="300.42" x2="306.9" y2="300.42" stroke="#1a1a1a" stroke-width="1.25"/>
<line x1="303.4" y1="293.12" x2="306.9" y2="293.12" stroke="#1a1a1a" stroke-width="1.25"/>
<line x1="303.4" y1="287.93" x2="306.9" y2="287.93" stroke="#1a1a1a" stroke-width="1.25"/>
<line x1="303.4" y1="283.91" x2="306.9" y2="283.91" stroke="#1a1a1a" stroke-width="1.25"/>
<line x1="303.4" y1="280.63" x2="306.9" y2="280.63" stroke="#1a1a1a" stroke-width="1.25"/>
<line x1="303.4" y1="277.85" x2="306.9" y2="277.85" stroke="#1a1a1a" stroke-width="1.25"/>
<line x1="303.4" y1="275.45" x2="306.9" y2="275.45" stroke="#1a1a1a" stroke-width="1.25"/>
<line x1="303.4" y1="273.32" x2="306.9" y2="273.32" stroke="#1a1a1a" stroke-width="1.25"/>
<text x="298.2" y="315.01" text-anchor="end" class="tl">0.1</text>
<line x1="299.59999999999997" y1="271.42" x2="306.9" y2="271.42" stroke="#1a1a1a" stroke-width="1.2"/>
<line x1="303.4" y1="258.94" x2="306.9" y2="258.94" stroke="#1a1a1a" stroke-width="1.25"/>
<line x1="303.4" y1="251.63" x2="306.9" y2="251.63" stroke="#1a1a1a" stroke-width="1.25"/>
<line x1="303.4" y1="246.45" x2="306.9" y2="246.45" stroke="#1a1a1a" stroke-width="1.25"/>
<line x1="303.4" y1="242.43" x2="306.9" y2="242.43" stroke="#1a1a1a" stroke-width="1.25"/>
<line x1="303.4" y1="239.14" x2="306.9" y2="239.14" stroke="#1a1a1a" stroke-width="1.25"/>
<line x1="303.4" y1="236.36" x2="306.9" y2="236.36" stroke="#1a1a1a" stroke-width="1.25"/>
<line x1="303.4" y1="233.96" x2="306.9" y2="233.96" stroke="#1a1a1a" stroke-width="1.25"/>
<line x1="303.4" y1="231.84" x2="306.9" y2="231.84" stroke="#1a1a1a" stroke-width="1.25"/>
<text x="298.2" y="273.52" text-anchor="end" class="tl">1</text>
<line x1="299.59999999999997" y1="229.94" x2="306.9" y2="229.94" stroke="#1a1a1a" stroke-width="1.2"/>
<line x1="303.4" y1="217.45" x2="306.9" y2="217.45" stroke="#1a1a1a" stroke-width="1.25"/>
<line x1="303.4" y1="210.14" x2="306.9" y2="210.14" stroke="#1a1a1a" stroke-width="1.25"/>
<line x1="303.4" y1="204.96" x2="306.9" y2="204.96" stroke="#1a1a1a" stroke-width="1.25"/>
<line x1="303.4" y1="200.94" x2="306.9" y2="200.94" stroke="#1a1a1a" stroke-width="1.25"/>
<line x1="303.4" y1="197.65" x2="306.9" y2="197.65" stroke="#1a1a1a" stroke-width="1.25"/>
<line x1="303.4" y1="194.88" x2="306.9" y2="194.88" stroke="#1a1a1a" stroke-width="1.25"/>
<line x1="303.4" y1="192.47" x2="306.9" y2="192.47" stroke="#1a1a1a" stroke-width="1.25"/>
<line x1="303.4" y1="190.35" x2="306.9" y2="190.35" stroke="#1a1a1a" stroke-width="1.25"/>
<text x="298.2" y="232.04" text-anchor="end" class="tl">10</text>
<line x1="299.59999999999997" y1="188.45" x2="306.9" y2="188.45" stroke="#1a1a1a" stroke-width="1.2"/>
<text x="298.2" y="190.55" text-anchor="end" class="tl">100</text>
<line x1="322.00" y1="354.4" x2="322.00" y2="358.2" stroke="#1a1a1a" stroke-width="1.2"/>
<text x="322.20" y="363.70" text-anchor="middle" class="xl">Rb</text>
<line x1="331.65" y1="354.4" x2="331.65" y2="358.2" stroke="#1a1a1a" stroke-width="1.2"/>
<text x="331.85" y="363.70" text-anchor="middle" class="xl">Ba</text>
<line x1="341.30" y1="354.4" x2="341.30" y2="358.2" stroke="#1a1a1a" stroke-width="1.2"/>
<text x="341.50" y="363.70" text-anchor="middle" class="xl">Th</text>
<line x1="350.96" y1="354.4" x2="350.96" y2="358.2" stroke="#1a1a1a" stroke-width="1.2"/>
<text x="351.16" y="363.70" text-anchor="middle" class="xl">U</text>
<line x1="360.61" y1="354.4" x2="360.61" y2="358.2" stroke="#1a1a1a" stroke-width="1.2"/>
<text x="360.81" y="363.70" text-anchor="middle" class="xl">Nb</text>
<line x1="370.26" y1="354.4" x2="370.26" y2="358.2" stroke="#1a1a1a" stroke-width="1.2"/>
<text x="370.46" y="363.70" text-anchor="middle" class="xl">Ta</text>
<line x1="379.91" y1="354.4" x2="379.91" y2="358.2" stroke="#1a1a1a" stroke-width="1.2"/>
<text x="380.11" y="363.70" text-anchor="middle" class="xl">K</text>
<line x1="389.56" y1="354.4" x2="389.56" y2="358.2" stroke="#1a1a1a" stroke-width="1.2"/>
<text x="389.76" y="363.70" text-anchor="middle" class="xl">La</text>
<line x1="399.22" y1="354.4" x2="399.22" y2="358.2" stroke="#1a1a1a" stroke-width="1.2"/>
<text x="399.42" y="363.70" text-anchor="middle" class="xl">Ce</text>
<line x1="408.87" y1="354.4" x2="408.87" y2="358.2" stroke="#1a1a1a" stroke-width="1.2"/>
<text x="409.07" y="363.70" text-anchor="middle" class="xl">Pb</text>
<line x1="418.52" y1="354.4" x2="418.52" y2="358.2" stroke="#1a1a1a" stroke-width="1.2"/>
<text x="418.72" y="363.70" text-anchor="middle" class="xl">Pr</text>
<line x1="428.17" y1="354.4" x2="428.17" y2="358.2" stroke="#1a1a1a" stroke-width="1.2"/>
<text x="428.37" y="363.70" text-anchor="middle" class="xl">Sr</text>
<line x1="437.82" y1="354.4" x2="437.82" y2="358.2" stroke="#1a1a1a" stroke-width="1.2"/>
<text x="438.02" y="363.70" text-anchor="middle" class="xl">P</text>
<line x1="447.48" y1="354.4" x2="447.48" y2="358.2" stroke="#1a1a1a" stroke-width="1.2"/>
<text x="447.68" y="363.70" text-anchor="middle" class="xl">Nd</text>
<line x1="457.13" y1="354.4" x2="457.13" y2="358.2" stroke="#1a1a1a" stroke-width="1.2"/>
<text x="457.33" y="363.70" text-anchor="middle" class="xl">Zr</text>
<line x1="466.78" y1="354.4" x2="466.78" y2="358.2" stroke="#1a1a1a" stroke-width="1.2"/>
<text x="466.98" y="363.70" text-anchor="middle" class="xl">Hf</text>
<line x1="476.43" y1="354.4" x2="476.43" y2="358.2" stroke="#1a1a1a" stroke-width="1.2"/>
<text x="476.63" y="363.70" text-anchor="middle" class="xl">Sm</text>
<line x1="486.08" y1="354.4" x2="486.08" y2="358.2" stroke="#1a1a1a" stroke-width="1.2"/>
<text x="486.28" y="363.70" text-anchor="middle" class="xl">Eu</text>
<line x1="495.74" y1="354.4" x2="495.74" y2="358.2" stroke="#1a1a1a" stroke-width="1.2"/>
<text x="495.94" y="363.70" text-anchor="middle" class="xl">Ti</text>
<line x1="505.39" y1="354.4" x2="505.39" y2="358.2" stroke="#1a1a1a" stroke-width="1.2"/>
<text x="505.59" y="363.70" text-anchor="middle" class="xl">Dy</text>
<line x1="515.04" y1="354.4" x2="515.04" y2="358.2" stroke="#1a1a1a" stroke-width="1.2"/>
<text x="515.24" y="363.70" text-anchor="middle" class="xl">Y</text>
<line x1="524.69" y1="354.4" x2="524.69" y2="358.2" stroke="#1a1a1a" stroke-width="1.2"/>
<text x="524.89" y="363.70" text-anchor="middle" class="xl">Yb</text>
<line x1="534.34" y1="354.4" x2="534.34" y2="358.2" stroke="#1a1a1a" stroke-width="1.2"/>
<text x="534.54" y="363.70" text-anchor="middle" class="xl">Lu</text>
<text x="310.9" y="201.45" class="pl">(d)</text>
<text transform="translate(284.2,270.40) rotate(-90)" text-anchor="middle" class="yl">Peridotite/primitive mantle</text>
</svg>
</body></html>
